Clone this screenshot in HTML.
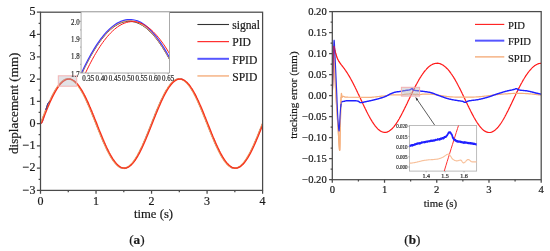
<!DOCTYPE html><html><head><meta charset="utf-8"><style>html,body{margin:0;padding:0;background:#fff;}svg{display:block;filter:blur(0.3px)}text{font-family:"Liberation Serif",serif;fill:#1a1a1a;stroke:#1a1a1a;stroke-width:0.2px}text.s{fill:#2a2a2a;stroke:#2a2a2a;stroke-width:0.2px}</style></head><body>
<svg width="550" height="251" viewBox="0 0 550 251">
<rect width="550" height="251" fill="#fff"/>
<defs><clipPath id="cA"><rect x="40.5" y="12.2" width="222.10" height="178.20"/></clipPath>
<clipPath id="cB"><rect x="332.3" y="11.6" width="208.90" height="168.10"/></clipPath>
<clipPath id="cLI"><rect x="81.1" y="12.2" width="88.40" height="60.80"/></clipPath>
<clipPath id="cRI"><rect x="409.5" y="125.5" width="67.10" height="45.60"/></clipPath>
<marker id="ah" viewBox="0 0 10 10" refX="9" refY="5" markerWidth="4.2" markerHeight="4.2" orient="auto"><path d="M0,1 L10,5 L0,9 z" fill="#333"/></marker>
</defs>
<g clip-path="url(#cA)" fill="none" stroke-linejoin="round">
<path d="M40.5,123.6 40.6,123.2 40.8,122.9 40.9,122.5 41.1,122.2 41.3,121.5 41.8,120.4 42,119.7 42.2,119.4 42.4,118.7 42.9,117.6 43.1,116.9 43.3,116.6 43.4,116.3 43.6,115.9 43.8,115.2 44,114.9 44.1,114.5 44.3,114.2 44.5,113.5 44.7,113.2 44.9,112.5 45.1,112.2 45.2,111.8 45.4,111.5 45.6,110.8 45.8,110.5 45.9,110.1 46.1,109.8 46.3,109.1 46.5,108.8 47,107.5 47.2,107.2 47.4,106.5 47.6,106.2 47.7,105.9 47.9,105.6 48.1,104.9 48.3,104.6 48.4,104.3 48.6,104 48.8,103.3 49,103 49.1,102.7 49.3,102.4 49.5,101.8 49.7,101.5 49.9,100.9 50.1,100.6 50.2,100.3 50.4,100 50.6,99.4 50.8,99.1 50.9,98.8 51.1,98.5 51.3,97.9 51.5,97.7 51.6,97.4 51.8,97.1 52,96.5 52.2,96.3 52.4,95.7 52.9,94.9 53.1,94.4 53.3,94.1 53.4,93.8 53.6,93.6 53.8,93.1 54.3,92.3 54.5,91.8 54.7,91.6 54.9,91.1 55.2,90.6 55.4,90.4 55.6,89.9 56.1,89.2 56.3,88.8 56.8,88.1 57,87.7 57.2,87.5 57.4,87.1 57.6,86.9 58.1,86.1 58.6,85.6 58.8,85.2 59.3,84.7 59.7,84.2 59.9,83.9 60.5,83.3 60.6,83.1 60.8,83 60.9,82.8 61.1,82.7 61.3,82.4 61.5,82.3 61.6,82.1 62,81.8 62.4,81.4 63.1,80.9 63.8,80.4 64.1,80.2 64.3,80.2 64.5,80 64.8,79.9 65.1,79.7 65.5,79.6 65.9,79.4 66.1,79.4 66.3,79.3 66.9,79.2 67,79.1 67.6,79.1 68.8,79 69.5,79.1 70.1,79.3 70.4,79.3 70.8,79.5 71.2,79.6 71.8,79.9 72.2,80.1 72.6,80.4 72.9,80.5 73.1,80.7 73.7,81.1 74.5,81.8 74.8,82 74.9,82.2 75.5,82.7 75.6,82.9 75.9,83.1 76.2,83.4 76.3,83.6 76.5,83.7 76.6,83.9 76.9,84.2 77,84.4 77.3,84.7 77.7,85.3 77.9,85.4 78.1,85.8 78.6,86.4 78.8,86.8 79,87 79.1,87.2 79.4,87.6 79.5,87.8 79.7,88 79.9,88.4 80.4,89.1 80.6,89.5 80.8,89.7 80.9,90 81.2,90.4 81.3,90.7 81.8,91.4 82,91.9 82.2,92.1 82.4,92.6 83,93.6 83.1,93.9 83.6,94.7 83.8,95.2 84,95.5 84.1,95.8 84.3,96 84.5,96.6 84.7,96.9 84.9,97.4 85.1,97.7 85.2,98 85.4,98.3 85.6,98.9 85.8,99.2 85.9,99.5 86.1,99.8 86.3,100.4 86.5,100.7 86.6,101 86.8,101.3 87,101.9 87.2,102.2 87.4,102.8 87.6,103.1 87.7,103.4 87.9,103.7 88.1,104.4 88.3,104.7 88.4,105 88.6,105.3 88.8,106 89,106.3 89.1,106.6 89.3,106.9 89.5,107.6 89.7,107.9 89.9,108.6 90.1,108.9 90.4,109.6 90.6,110.2 90.8,110.6 90.9,110.9 91.1,111.2 91.3,111.9 91.5,112.2 91.6,112.6 91.8,112.9 92,113.6 92.2,113.9 92.4,114.6 92.7,115.3 92.9,115.7 93.1,116.3 93.6,117.4 93.8,118.1 94,118.4 94.1,118.8 94.3,119.1 94.5,119.8 94.7,120.2 94.9,120.9 95.1,121.2 95.2,121.6 95.4,121.9 95.6,122.6 96.1,123.7 96.3,124.4 96.5,124.7 96.6,125.1 96.8,125.4 97,126.1 97.2,126.5 97.4,127.2 97.6,127.5 97.7,127.9 97.9,128.2 98.1,128.9 98.3,129.2 98.4,129.6 98.6,129.9 98.8,130.6 99,131 99.1,131.3 99.3,131.7 99.5,132.4 99.7,132.7 99.9,133.4 100.1,133.7 100.2,134.1 100.4,134.4 100.6,135.1 100.8,135.4 100.9,135.8 101.1,136.1 101.3,136.8 101.5,137.1 101.6,137.4 101.9,138.1 102,138.4 102.4,139.4 102.6,139.7 102.7,140.1 102.9,140.4 103.1,141 103.4,141.7 103.6,142 103.8,142.6 104,142.9 104.1,143.3 104.3,143.6 104.5,144.2 104.7,144.5 104.9,145.1 105.1,145.4 105.2,145.7 105.4,146 105.6,146.6 105.8,146.9 105.9,147.2 106.1,147.5 106.3,148.1 106.5,148.4 106.6,148.7 106.8,149 107,149.6 107.2,149.8 107.4,150.4 107.6,150.7 107.7,151 107.9,151.2 108.1,151.8 108.6,152.6 108.8,153.1 109.3,153.9 109.5,154.4 109.8,154.9 109.9,155.2 110.4,155.9 110.6,156.4 110.8,156.6 111.3,157.5 111.5,157.7 111.6,158 111.8,158.2 112,158.6 112.2,158.8 112.4,159.3 112.9,159.9 113.1,160.3 113.6,160.9 113.8,161.3 114,161.4 114.4,162 114.5,162.2 114.7,162.3 114.8,162.5 115.1,162.8 115.5,163.3 115.6,163.5 115.8,163.6 115.9,163.8 116.1,163.9 116.6,164.5 116.8,164.6 117,164.9 117.2,165 117.3,165.2 117.7,165.5 117.9,165.6 118.1,165.9 118.6,166.2 118.8,166.4 119.3,166.7 120,167.1 120.5,167.4 120.9,167.5 121.3,167.7 121.5,167.7 121.6,167.8 122.2,167.9 122.7,168 124.8,168.1 125.6,167.9 126.1,167.8 126.5,167.6 127.2,167.3 127.3,167.2 127.9,166.9 128.6,166.5 129.1,166.1 129.8,165.6 130.2,165.2 130.4,165.1 130.6,164.8 130.8,164.7 130.9,164.5 131.2,164.3 131.3,164.1 131.5,164 131.6,163.8 131.8,163.7 132.2,163.2 132.3,163 132.5,162.9 132.7,162.5 132.9,162.4 133.1,162 133.6,161.5 133.8,161.1 134,160.9 134.1,160.7 134.3,160.5 134.5,160.1 135,159.5 135.2,159.1 135.4,158.9 135.6,158.5 135.9,158 136.1,157.8 136.6,156.9 136.8,156.7 137,156.2 137.3,155.7 137.5,155.5 137.7,155 138,154.5 138.1,154.2 138.3,154 138.4,153.7 138.7,153.2 138.8,152.9 139,152.7 139.1,152.4 139.4,151.9 139.5,151.6 139.7,151.3 139.8,151 140,150.8 140.2,150.2 140.4,149.9 140.6,149.3 140.8,149.1 140.9,148.8 141.1,148.5 141.3,147.9 141.5,147.6 141.6,147.3 141.8,147 142,146.4 142.2,146.1 142.3,145.8 142.5,145.5 142.7,144.9 142.9,144.6 143.1,144 143.3,143.7 143.4,143.3 143.6,143 143.8,142.4 144,142.1 144.1,141.8 144.3,141.4 144.5,140.8 144.7,140.5 144.8,140.1 145,139.8 145.2,139.2 145.4,138.8 145.6,138.2 145.8,137.8 145.9,137.5 146.1,137.2 146.3,136.5 146.5,136.2 146.6,135.8 146.8,135.5 147,134.8 147.2,134.5 147.5,133.8 147.7,133.1 147.9,132.8 148.1,132.1 148.3,131.8 148.4,131.4 148.6,131.1 148.8,130.4 149,130 149.1,129.7 149.3,129.3 149.5,128.6 149.7,128.3 149.8,127.9 150,127.6 150.2,126.9 150.4,126.5 150.6,125.8 150.8,125.5 151.2,124.5 151.3,124.1 151.5,123.8 151.6,123.4 151.8,123 152,122.3 152.2,122 152.3,121.6 152.5,121.3 152.7,120.6 152.9,120.3 153.1,119.6 153.3,119.2 153.7,118.2 153.8,117.8 154,117.5 154.1,117.1 154.3,116.8 154.5,116.1 154.8,115.4 155,115.1 155.2,114.4 155.4,114 155.6,113.3 155.8,113 156.2,112 156.3,111.6 156.5,111.3 156.6,111 156.8,110.6 157,110 157.3,109.3 157.5,109 157.7,108.3 157.9,108 158.1,107.3 158.3,107 158.4,106.7 158.6,106.4 158.8,105.7 159,105.4 159.1,105.1 159.3,104.8 159.5,104.1 159.7,103.8 159.8,103.5 160,103.2 160.2,102.6 160.4,102.3 160.6,101.6 160.8,101.3 160.9,101 161.1,100.7 161.3,100.1 161.5,99.8 161.6,99.5 161.9,99 162,98.7 162.2,98.4 162.3,98.1 162.5,97.8 162.7,97.2 162.9,97 163.1,96.4 163.3,96.1 163.4,95.8 163.6,95.6 163.8,95 164,94.8 164.1,94.5 164.4,94 164.5,93.7 165,92.9 165.2,92.4 165.4,92.2 165.6,91.7 165.9,91.2 166.1,91 166.3,90.5 166.5,90.3 166.6,90 166.8,89.8 167,89.3 167.5,88.7 167.7,88.3 168.1,87.6 168.3,87.4 168.8,86.6 169,86.4 169.1,86.2 169.4,85.9 169.8,85.3 170.2,84.8 170.4,84.6 170.6,84.3 170.8,84.1 170.9,83.9 171.1,83.8 171.6,83.2 171.9,82.9 172,82.7 172.3,82.5 172.7,82.1 172.9,82 173.1,81.7 173.6,81.4 173.8,81.1 174.4,80.7 174.7,80.5 175,80.4 175.2,80.2 175.8,79.9 175.9,79.8 176.3,79.7 176.6,79.5 176.8,79.5 177.2,79.3 177.5,79.3 177.7,79.2 177.9,79.2 178.1,79.1 178.7,79.1 179.1,79 179.8,79 180.2,79.1 180.5,79.1 180.6,79.2 181.1,79.2 181.8,79.5 182.2,79.6 182.3,79.7 182.6,79.8 182.7,79.9 182.9,79.9 183.1,80.1 183.3,80.1 183.8,80.5 184.3,80.8 184.5,81 185,81.3 185.2,81.5 185.5,81.7 185.6,81.9 186.1,82.2 186.3,82.5 186.5,82.6 186.6,82.8 186.8,82.9 187.6,83.8 187.7,84 187.9,84.1 188.1,84.5 188.3,84.6 188.7,85.2 189,85.5 189.1,85.7 189.3,85.9 189.5,86.3 190,86.9 190.2,87.3 190.4,87.5 190.8,88.1 191.2,88.7 191.3,89 191.6,89.4 191.8,89.6 192,90.1 192.2,90.3 192.3,90.6 192.6,91 192.7,91.3 192.9,91.5 193,91.8 193.3,92.2 193.4,92.5 193.6,92.7 193.8,93.3 194,93.5 194.1,93.8 194.3,94 194.5,94.6 194.7,94.8 194.8,95.1 195.1,95.6 195.2,95.9 195.4,96.2 195.5,96.5 195.7,96.7 195.9,97.3 196.1,97.6 196.3,98.2 196.5,98.4 196.6,98.7 196.8,99 197,99.6 197.2,99.9 197.3,100.2 197.5,100.5 197.7,101.1 197.9,101.4 198,101.7 198.2,102 198.4,102.6 198.6,102.9 198.8,103.6 199,103.9 199.1,104.2 199.3,104.5 199.5,105.2 199.7,105.5 199.8,105.8 200,106.1 200.2,106.8 200.4,107.1 200.5,107.4 200.7,107.7 200.9,108.4 201.1,108.7 201.3,109.4 201.5,109.7 201.6,110 201.8,110.4 202,111.1 202.2,111.4 202.5,112.1 202.7,112.7 202.9,113.1 203,113.4 203.3,114.1 203.4,114.4 203.7,115.1 203.8,115.5 204,115.8 204.1,116.2 204.3,116.5 204.5,117.2 204.8,117.9 205,118.2 205.2,118.9 205.4,119.3 205.8,120.3 205.9,120.7 206.1,121 206.3,121.7 206.5,122.1 206.6,122.4 206.8,122.8 207,123.5 207.2,123.8 207.3,124.2 207.5,124.5 207.7,125.2 207.9,125.6 208,125.9 208.3,126.6 208.4,127 208.6,127.3 208.8,128 209.1,128.7 209.3,129.1 209.5,129.8 209.7,130.1 209.8,130.5 210,130.8 210.2,131.5 210.4,131.8 210.5,132.2 210.7,132.5 210.9,133.2 211.1,133.6 211.3,134.2 211.5,134.6 211.6,134.9 211.8,135.3 212,135.9 212.3,136.6 212.5,136.9 212.7,137.6 212.9,137.9 213,138.3 213.2,138.6 213.4,139.2 213.6,139.6 213.8,140.2 214,140.6 214.1,140.9 214.3,141.2 214.5,141.8 214.8,142.5 215,142.8 215.2,143.4 215.4,143.7 215.5,144 215.8,144.7 215.9,145 216.1,145.3 216.3,145.9 216.5,146.2 216.6,146.5 216.8,146.8 217,147.4 217.2,147.7 217.3,148 217.5,148.3 217.7,148.8 217.9,149.1 218,149.4 218.2,149.7 218.4,150.3 218.6,150.5 218.8,151.1 219.3,151.9 219.5,152.5 219.7,152.7 219.8,153 220,153.2 220.2,153.8 220.4,154 220.5,154.3 220.7,154.5 220.9,155 221.2,155.5 221.3,155.8 221.8,156.5 222,157 222.5,157.6 222.7,158.1 222.9,158.3 223.2,158.7 223.4,159.2 223.8,159.8 224.1,160.2 224.3,160.4 224.5,160.8 224.8,161.2 225,161.3 225.2,161.7 225.4,161.9 225.5,162.1 225.7,162.2 225.9,162.6 226.2,162.9 226.3,163.1 226.5,163.2 226.6,163.4 226.9,163.7 227,163.9 227.2,164 227.3,164.2 227.6,164.4 227.7,164.6 228.4,165.2 228.8,165.6 229.5,166.1 230.2,166.6 230.8,167 231.2,167.2 231.3,167.3 231.9,167.5 232.3,167.7 232.5,167.7 232.9,167.9 233.2,167.9 233.7,168 234.1,168.1 235.8,168.1 236.3,168 236.6,167.9 236.8,167.9 237.2,167.7 237.6,167.6 237.7,167.5 237.9,167.5 238.2,167.3 238.6,167.1 239,166.9 239.4,166.6 240,166.3 240.2,166.1 240.4,166 240.5,165.8 240.9,165.5 241.2,165.3 241.3,165.1 241.6,164.9 242.6,163.9 242.7,163.7 242.9,163.6 243,163.4 243.2,163.3 243.6,162.8 244,162.3 244.1,162.1 244.4,161.8 244.5,161.6 245,161 245.2,160.6 245.4,160.4 245.5,160.2 245.8,159.8 245.9,159.6 246.1,159.4 246.3,159 246.5,158.8 246.6,158.6 246.8,158.4 247,157.9 247.5,157.2 247.7,156.8 248,156.3 248.2,156.1 248.4,155.6 248.7,155.1 248.8,154.8 249,154.6 249.1,154.3 249.3,154.1 249.5,153.6 250,152.8 250.2,152.3 250.4,152 250.5,151.7 250.8,151.2 250.9,150.9 251.1,150.6 251.3,150.1 251.5,149.8 251.6,149.5 251.8,149.2 252,148.6 252.2,148.3 252.3,148 252.5,147.8 252.7,147.2 252.9,146.9 253,146.6 253.2,146.3 253.4,145.7 253.6,145.4 253.8,144.7 254,144.4 254.1,144.1 254.3,143.8 254.5,143.2 254.7,142.9 255,142.2 255.2,141.6 255.4,141.3 255.5,141 255.8,140.3 255.9,140 256.1,139.7 256.3,139 256.5,138.7 256.6,138.3 256.8,138 257,137.4 257.5,136.3 257.7,135.7 258,135 258.2,134.7 258.4,134 258.6,133.6 258.8,133 259.3,131.9 259.5,131.2 259.7,130.9 259.8,130.5 260,130.2 260.2,129.5 260.4,129.2 260.5,128.8 260.7,128.5 260.9,127.8 261.1,127.4 261.3,126.7 261.5,126.4 261.6,126 261.8,125.7 262,125 262.5,123.9 262.6,123.6" stroke="#222" stroke-width="1.0"/>
<path d="M40.5,123.6 41.1,123.3 41.3,123 41.8,122.7 42.2,122.2 42.4,121.6 42.6,121.2 42.7,120.8 42.9,120.3 43.1,119.3 43.3,118.8 43.4,118.3 43.6,117.9 43.8,116.9 44,116.4 44.1,115.9 44.3,115.4 44.5,114.4 44.7,113.9 44.9,112.9 45.1,112.4 45.2,111.9 45.4,111.4 45.6,110.4 45.8,109.9 45.9,109.4 46.1,108.9 46.3,108 46.5,107.6 46.6,107.1 46.8,106.7 47,105.9 47.2,105.5 47.4,104.7 47.7,104 48.1,103.3 48.6,102.7 48.8,102.3 49.3,101.7 49.5,101.3 49.7,101 49.9,100.5 50.1,100.2 50.2,99.9 50.4,99.7 50.6,99.1 50.8,98.8 50.9,98.5 51.1,98.2 51.3,97.6 51.8,96.8 52,96.2 52.2,96 52.4,95.4 52.9,94.6 53.1,94.1 53.3,93.8 53.4,93.5 53.6,93.3 53.8,92.8 54.3,92 54.5,91.5 54.7,91.3 54.9,90.8 55.1,90.6 55.2,90.3 55.5,89.9 55.6,89.6 55.8,89.4 55.9,89.2 56.1,89 56.3,88.5 56.5,88.3 56.6,88.1 56.8,87.9 57,87.5 57.2,87.3 57.4,86.9 57.6,86.7 58.1,85.9 58.4,85.5 58.6,85.3 58.8,85 59,84.8 59.1,84.6 59.4,84.3 59.5,84.1 59.8,83.8 59.9,83.6 60.5,83 60.6,82.8 61.2,82.3 61.3,82.1 61.6,81.9 62,81.5 62.3,81.3 62.4,81.1 63,80.7 63.7,80.2 63.8,80.1 64.3,79.9 64.5,79.7 64.7,79.7 64.9,79.5 65.5,79.3 65.8,79.2 65.9,79.1 66.5,79 66.9,78.9 67,78.8 67.7,78.8 69.1,78.7 69.8,78.8 69.9,78.9 70.2,78.9 70.6,79.1 70.8,79.1 70.9,79.2 71.3,79.3 71.6,79.5 71.9,79.6 72,79.7 72.3,79.8 73,80.3 73.7,80.8 74.4,81.3 74.5,81.5 74.9,81.8 75.2,82.1 75.4,82.2 75.6,82.5 76.2,83.1 76.3,83.3 76.5,83.4 76.9,83.9 77.3,84.4 77.7,85 77.9,85.1 78.1,85.5 78.6,86.1 78.8,86.5 79,86.7 79.1,86.9 79.3,87.1 79.5,87.5 79.7,87.7 80.2,88.6 80.4,88.8 80.6,89.2 80.9,89.7 81.1,89.9 81.3,90.4 81.5,90.6 81.6,90.9 81.8,91.1 82,91.6 82.3,92.1 82.4,92.4 82.6,92.6 82.7,92.9 82.9,93.1 83.1,93.7 83.3,93.9 83.4,94.2 83.7,94.7 83.8,95 84.3,95.8 84.5,96.4 84.8,96.9 84.9,97.2 85.1,97.5 85.2,97.8 85.4,98.1 85.6,98.7 85.8,99 85.9,99.3 86.1,99.6 86.3,100.2 86.5,100.5 86.6,100.8 86.8,101.1 87,101.7 87.2,102 87.4,102.6 87.6,102.9 87.7,103.2 87.9,103.5 88.1,104.2 88.3,104.5 88.4,104.8 88.6,105.1 88.8,105.8 89,106.1 89.1,106.4 89.4,107.1 89.5,107.4 89.7,107.7 89.9,108.4 90.1,108.7 90.2,109.1 90.4,109.4 90.6,110.1 90.8,110.4 91.2,111.4 91.3,111.8 91.5,112.1 91.6,112.4 91.9,113.1 92,113.5 92.2,113.8 92.4,114.5 92.6,114.8 92.7,115.2 92.9,115.5 93.1,116.2 93.3,116.6 93.7,117.6 93.8,118 94,118.3 94.1,118.7 94.3,119 94.5,119.7 94.7,120.1 94.9,120.8 95.1,121.1 95.2,121.5 95.4,121.8 95.6,122.5 96.1,123.6 96.3,124.3 96.5,124.7 96.6,125 96.9,125.7 97,126.1 97.2,126.4 97.4,127.1 97.7,127.8 97.9,128.2 98.1,128.9 98.3,129.2 98.4,129.6 98.6,129.9 98.8,130.6 99,131 99.1,131.3 99.3,131.7 99.5,132.4 99.7,132.7 99.9,133.4 100.2,134.1 100.4,134.4 100.6,135.1 101.1,136.2 101.3,136.8 101.5,137.2 101.6,137.5 101.8,137.8 102,138.5 102.2,138.8 102.4,139.5 102.6,139.8 102.7,140.2 102.9,140.5 103.1,141.1 103.4,141.8 103.6,142.1 103.8,142.8 104,143.1 104.1,143.4 104.3,143.7 104.5,144.3 104.7,144.7 104.9,145.3 105.1,145.6 105.2,145.9 105.4,146.2 105.6,146.8 105.8,147.1 105.9,147.4 106.1,147.7 106.3,148.3 106.5,148.6 106.6,148.9 106.8,149.2 107,149.7 107.2,150 107.4,150.6 107.6,150.9 107.7,151.2 107.9,151.4 108.1,152 108.6,152.8 108.8,153.3 109.3,154.1 109.5,154.6 109.8,155.1 109.9,155.4 110.1,155.6 110.2,155.9 110.4,156.1 110.6,156.6 111.1,157.3 111.6,158.2 111.9,158.6 112,158.9 112.2,159.1 112.4,159.5 112.6,159.7 112.7,159.9 112.9,160.1 113.1,160.5 113.3,160.7 113.4,160.9 113.6,161.1 113.8,161.5 114,161.7 114.1,161.9 114.3,162 114.5,162.4 115,162.9 115.2,163.3 115.4,163.4 116.2,164.3 116.3,164.5 116.5,164.6 116.6,164.8 116.9,165 117,165.2 117.7,165.8 118.1,166.1 118.4,166.4 119.1,166.9 119.4,167 119.8,167.3 120.4,167.6 120.8,167.8 121.2,167.9 121.6,168.1 122.2,168.2 122.3,168.3 122.6,168.3 123.7,168.4 124.1,168.5 125.2,168.4 125.5,168.3 125.6,168.2 126.1,168.1 126.8,167.8 127.3,167.5 127.9,167.2 128.3,167 128.8,166.6 129.3,166.3 129.8,165.8 130.9,164.8 131.1,164.7 131.6,164.1 131.9,163.8 132,163.6 132.2,163.5 132.6,163 132.7,162.8 132.9,162.6 133.1,162.3 133.3,162.1 133.7,161.5 134,161.2 134.1,161 134.3,160.8 134.5,160.4 135,159.8 135.2,159.3 135.4,159.1 135.6,158.7 135.8,158.5 136.3,157.6 136.5,157.4 136.6,157.1 136.8,156.9 137,156.4 137.2,156.2 137.3,155.9 137.5,155.7 137.7,155.2 138,154.7 138.1,154.4 138.3,154.2 138.4,153.9 138.6,153.7 138.8,153.1 139,152.9 139.1,152.6 139.4,152.1 139.5,151.8 139.7,151.5 139.8,151.2 140,151 140.2,150.4 140.4,150.1 140.6,149.5 140.8,149.3 140.9,149 141.1,148.7 141.3,148.1 141.5,147.8 141.6,147.5 141.8,147.2 142,146.6 142.2,146.3 142.3,146 142.5,145.7 142.7,145.1 142.9,144.8 143.1,144.1 143.3,143.8 143.4,143.5 143.6,143.2 143.8,142.6 144,142.3 144.1,141.9 144.3,141.6 144.5,141 144.8,140.3 145,140 145.2,139.3 145.4,139 145.6,138.3 145.8,138 145.9,137.7 146.1,137.3 146.3,136.7 146.5,136.3 146.6,136 146.8,135.6 147,135 147.5,133.9 147.7,133.3 147.9,132.9 148.1,132.2 148.3,131.9 148.4,131.5 148.6,131.2 148.8,130.5 149.1,129.8 149.3,129.4 149.5,128.7 149.7,128.4 149.8,128 150,127.7 150.2,127 150.4,126.6 150.6,125.9 150.8,125.6 150.9,125.2 151.1,124.9 151.3,124.2 151.5,123.8 151.6,123.4 151.8,123.1 152,122.4 152.5,121.3 152.7,120.6 152.9,120.3 153.1,119.6 153.3,119.2 153.7,118.2 153.8,117.8 154,117.5 154.1,117.1 154.3,116.8 154.5,116.1 155,115 155.2,114.3 155.4,114 155.6,113.3 155.8,113 155.9,112.6 156.1,112.3 156.3,111.6 156.5,111.3 156.6,110.9 156.8,110.6 157,109.9 157.2,109.6 157.3,109.2 157.5,108.9 157.7,108.2 157.9,107.9 158.1,107.3 158.3,106.9 158.4,106.6 158.6,106.3 158.8,105.6 159,105.3 159.1,105 159.3,104.7 159.5,104 159.7,103.7 159.8,103.4 160,103.1 160.2,102.5 160.4,102.1 160.6,101.5 160.8,101.2 160.9,100.9 161.1,100.6 161.3,100 161.5,99.7 161.6,99.4 161.8,99.1 162,98.5 162.2,98.2 162.3,97.9 162.5,97.7 162.7,97.1 162.9,96.8 163.1,96.2 163.3,96 163.4,95.7 163.6,95.4 163.8,94.9 164,94.6 164.1,94.3 164.3,94.1 164.5,93.5 164.7,93.3 164.8,93 165,92.8 165.2,92.2 165.4,92 165.6,91.5 165.8,91.3 165.9,91 166.1,90.8 166.3,90.3 166.5,90.1 166.6,89.8 166.8,89.6 167,89.1 167.5,88.5 167.7,88 167.9,87.8 168.1,87.4 168.3,87.2 168.8,86.4 169.1,86 169.3,85.8 169.5,85.4 169.7,85.3 170,84.9 170.2,84.5 170.4,84.4 170.6,84 170.8,83.9 171.2,83.4 171.3,83.2 171.5,83.1 171.6,82.9 171.8,82.8 172,82.5 172.2,82.4 172.3,82.2 172.6,82 172.7,81.8 173,81.6 173.1,81.4 173.8,80.9 174.5,80.4 175.2,79.9 175.4,79.9 175.6,79.7 176.1,79.5 176.8,79.2 177,79.1 177.5,79 177.7,78.9 178,78.9 178.1,78.8 178.7,78.8 179.1,78.7 180.1,78.7 180.2,78.8 180.8,78.8 180.9,78.9 181.2,78.9 181.9,79.1 182.2,79.3 182.6,79.4 183,79.7 183.3,79.8 183.8,80.2 184.4,80.6 184.8,80.9 185.2,81.2 185.4,81.3 185.6,81.6 185.9,81.8 187.2,83.1 187.3,83.3 187.5,83.4 187.7,83.7 187.9,83.9 188.1,84.2 188.3,84.4 188.4,84.6 188.6,84.7 188.8,85.1 189.1,85.5 189.3,85.6 189.5,86 190,86.6 190.2,87 190.4,87.2 190.5,87.4 190.7,87.6 190.9,88.1 191.3,88.7 191.5,88.9 191.6,89.2 191.8,89.4 192,89.9 192.5,90.6 192.7,91 193.3,92 193.4,92.3 193.6,92.5 193.8,93 194,93.3 194.1,93.6 194.3,93.8 194.5,94.3 194.7,94.6 194.8,94.9 195.1,95.4 195.2,95.7 195.4,96 195.5,96.3 195.7,96.5 195.9,97.1 196.1,97.4 196.3,98 196.8,98.8 197,99.4 197.2,99.7 197.3,100 197.5,100.3 197.7,100.9 197.9,101.2 198,101.5 198.2,101.8 198.4,102.5 198.6,102.8 198.8,103.4 199,103.7 199.1,104 199.3,104.3 199.5,105 199.7,105.3 200,106 200.2,106.6 200.4,106.9 200.5,107.3 200.7,107.6 200.9,108.2 201.1,108.6 201.3,109.2 201.5,109.6 201.6,109.9 201.8,110.2 202,110.9 202.3,111.6 202.5,111.9 202.7,112.6 202.9,113 203,113.3 203.2,113.6 203.4,114.3 203.7,115 203.8,115.4 204,115.7 204.1,116.1 204.3,116.4 204.5,117.1 205,118.2 205.2,118.9 205.4,119.2 205.5,119.6 205.7,119.9 205.9,120.6 206.2,121.3 206.3,121.7 206.5,122 206.6,122.4 206.8,122.7 207,123.4 207.5,124.5 207.7,125.2 207.9,125.5 208,125.9 208.2,126.2 208.4,126.9 208.7,127.6 208.8,128 209.1,128.7 209.3,129.1 209.5,129.7 210,130.8 210.2,131.5 210.4,131.8 210.5,132.2 210.7,132.5 210.9,133.2 211.1,133.6 211.3,134.2 211.5,134.6 211.6,134.9 211.8,135.3 212,136 212.2,136.3 212.5,137 212.7,137.6 212.9,138 213,138.3 213.2,138.6 213.4,139.3 213.6,139.6 213.8,140.3 214,140.6 214.1,140.9 214.3,141.3 214.5,141.9 214.7,142.2 214.8,142.6 215,142.9 215.2,143.5 215.4,143.8 215.5,144.1 215.7,144.4 215.9,145.1 216.1,145.4 216.3,146 216.5,146.3 216.6,146.6 216.8,146.9 217,147.5 217.2,147.8 217.3,148.1 217.5,148.4 217.7,149 218.2,149.8 218.4,150.4 218.6,150.7 218.8,151.2 219,151.5 219.1,151.8 219.4,152.3 219.5,152.6 220,153.4 220.2,153.9 220.7,154.7 220.9,155.2 221.3,155.9 221.8,156.7 222.3,157.6 222.5,157.8 222.7,158.3 222.9,158.5 223.2,158.9 223.4,159.4 223.6,159.6 223.8,160 224,160.2 224.1,160.4 224.3,160.6 224.5,161 225,161.6 225.2,161.9 225.4,162.1 225.5,162.3 226.1,163 226.5,163.5 226.6,163.7 226.8,163.8 227.7,164.8 228,165.1 228.2,165.2 228.4,165.5 228.7,165.7 228.8,165.9 229.3,166.2 229.5,166.4 230,166.7 230.2,166.9 230.7,167.2 231.3,167.6 231.8,167.8 232.2,167.9 232.5,168 233,168.2 233.2,168.2 233.4,168.3 234.1,168.4 234.3,168.4 235.2,168.5 235.5,168.5 236.2,168.4 236.6,168.3 237,168.1 237.5,168 237.9,167.8 238,167.7 238.3,167.6 239,167.2 239.4,166.9 239.7,166.8 240.2,166.4 240.5,166.1 241.1,165.7 241.3,165.4 242,164.8 242.6,164.2 242.7,164 242.9,163.9 243,163.7 243.2,163.6 243.4,163.2 243.6,163.1 243.8,162.7 244,162.6 244.1,162.4 244.3,162.2 244.5,161.8 244.7,161.7 245,161.3 245.2,160.9 245.4,160.7 245.8,160.1 246.5,159 246.6,158.8 246.8,158.6 247,158.2 247.3,157.7 247.6,157.3 247.7,157 247.9,156.8 248.3,156.1 248.4,155.8 248.6,155.6 248.8,155.1 249.3,154.3 249.5,153.8 250,153 250.2,152.5 250.4,152.2 250.5,151.9 250.7,151.7 250.9,151.1 251.2,150.6 251.3,150.3 251.5,150 251.6,149.7 251.8,149.4 252,148.8 252.2,148.5 252.3,148.2 252.5,148 252.7,147.4 252.9,147.1 253,146.8 253.2,146.5 253.4,145.8 253.6,145.5 253.8,144.9 254,144.6 254.1,144.3 254.3,144 254.5,143.4 254.8,142.7 255,142.4 255.2,141.8 255.4,141.4 255.5,141.1 255.7,140.8 255.9,140.1 256.1,139.8 256.3,139.2 256.6,138.5 256.8,138.2 257,137.5 257.2,137.2 257.3,136.8 257.5,136.5 257.7,135.8 257.9,135.5 258,135.1 258.2,134.8 258.4,134.1 258.6,133.8 258.8,133.1 259.3,132 259.5,131.3 259.7,131 260.1,130 260.2,129.6 260.4,129.3 260.5,128.9 260.7,128.6 260.9,127.9 261.1,127.5 261.3,126.8 261.5,126.5 261.6,126.1 261.8,125.8 262,125.1 262.5,124 262.6,123.7" stroke="#1f1fff" stroke-width="1.0"/>
<path d="M40.5,123.6 40.8,123.1 40.9,122.7 41.1,122.4 41.3,121.7 41.8,120.6 42,120 42.2,119.6 42.4,118.9 42.6,118.6 42.7,118.2 42.9,117.9 43.1,117.2 43.4,116.5 43.7,115.8 43.8,115.4 44,115.1 44.3,114.3 44.5,113.4 44.9,112.3 45.1,111.9 45.2,111.6 45.4,111.3 45.6,110.6 45.9,109.9 46.1,109.6 46.3,108.9 46.5,108.6 46.8,107.9 47,107.3 47.2,106.9 47.4,106.3 47.6,106 47.7,105.6 47.9,105.3 48.1,104.7 48.3,104.4 48.4,104.1 48.6,103.7 48.8,103.1 49,102.8 49.1,102.5 49.3,102.2 49.5,101.6 49.9,100.9 50.1,100.7 50.2,100.4 50.4,100.1 50.6,99.4 50.9,98.7 51.2,98.2 51.3,97.9 51.5,97.6 51.6,97.3 51.8,97.1 52,96.5 52.2,96.2 52.4,95.7 52.6,95.4 52.7,95.1 53,94.6 53.1,94.3 53.6,93.5 53.8,93 54.3,92.2 54.5,91.7 54.7,91.5 54.9,91 55.1,90.8 55.2,90.5 55.5,90.1 55.6,89.8 56.1,89.2 56.3,88.7 56.5,88.5 56.8,88.1 57,87.6 57.2,87.4 57.4,87 57.6,86.8 57.7,86.6 57.9,86.4 58.1,86 58.3,85.9 58.4,85.7 58.6,85.5 58.8,85.1 59,85 59.5,84.3 59.9,83.8 60.5,83.2 60.6,83 60.8,82.9 60.9,82.7 61.1,82.6 61.3,82.3 62,81.7 62.2,81.6 62.4,81.3 63,80.9 63.4,80.6 63.8,80.3 64.3,80.1 64.5,79.9 64.7,79.9 64.9,79.7 65.1,79.7 65.6,79.4 65.8,79.4 65.9,79.3 66.5,79.2 66.6,79.1 66.9,79.1 67.7,79 68.7,78.9 69.4,79 69.9,79.1 70.6,79.3 71.1,79.5 71.8,79.8 72.3,80.1 72.6,80.3 73.3,80.7 73.8,81.1 74,81.2 74.1,81.4 74.5,81.7 74.7,81.8 74.9,82.1 75.5,82.6 75.6,82.8 75.8,82.9 75.9,83.1 76.1,83.2 76.9,84.1 77,84.3 77.3,84.6 77.7,85.2 77.9,85.3 78.1,85.7 78.6,86.3 78.8,86.7 79.3,87.3 79.5,87.7 79.9,88.3 80.1,88.5 80.2,88.8 80.4,89 80.6,89.4 80.9,89.9 81.2,90.3 81.3,90.6 81.5,90.8 81.6,91.1 81.9,91.5 82,91.8 82.2,92 82.4,92.5 82.9,93.3 83.1,93.8 83.6,94.6 83.8,95.2 84,95.4 84.1,95.7 84.3,96 84.5,96.5 84.7,96.8 84.9,97.4 85.4,98.2 85.6,98.8 85.8,99.1 85.9,99.4 86.1,99.7 86.3,100.3 86.5,100.6 86.6,100.9 86.8,101.2 87,101.8 87.2,102.1 87.4,102.7 87.6,103 87.7,103.4 87.9,103.7 88.1,104.3 88.3,104.6 88.7,105.6 88.8,105.9 89,106.2 89.1,106.6 89.3,106.9 89.5,107.5 89.7,107.9 89.9,108.5 90.1,108.8 90.2,109.2 90.4,109.5 90.6,110.2 90.8,110.5 90.9,110.9 91.1,111.2 91.3,111.9 91.5,112.2 91.6,112.5 91.9,113.2 92,113.6 92.2,113.9 92.4,114.6 92.6,114.9 92.7,115.3 92.9,115.6 93.1,116.3 93.6,117.4 93.8,118.1 94,118.4 94.1,118.8 94.3,119.1 94.5,119.8 94.7,120.1 94.9,120.8 95.2,121.5 95.4,121.9 95.6,122.6 96.1,123.7 96.3,124.4 96.5,124.7 96.6,125.1 96.8,125.4 97,126.1 97.2,126.5 97.4,127.2 97.6,127.5 97.7,127.9 97.9,128.2 98.1,128.9 98.6,130 98.8,130.6 99,131 99.1,131.3 99.3,131.7 99.5,132.4 99.7,132.7 99.9,133.4 100.2,134.1 100.4,134.4 100.6,135.1 100.9,135.8 101.1,136.1 101.3,136.8 101.5,137.1 101.6,137.5 101.8,137.8 102,138.5 102.2,138.8 102.4,139.5 102.6,139.8 102.7,140.1 102.9,140.4 103.1,141.1 103.3,141.4 103.4,141.7 103.6,142 103.8,142.7 104,143 104.1,143.3 104.3,143.6 104.5,144.2 104.7,144.6 104.9,145.2 105.1,145.5 105.2,145.8 105.4,146.1 105.6,146.7 105.8,147 105.9,147.3 106.1,147.6 106.3,148.2 106.8,149 107,149.6 107.2,149.9 107.4,150.5 107.6,150.7 107.7,151 107.9,151.3 108.1,151.8 108.3,152.1 108.4,152.4 108.6,152.6 108.8,153.2 109,153.4 109.1,153.7 109.3,153.9 109.5,154.5 109.7,154.7 109.9,155.2 110.1,155.4 110.2,155.7 110.4,155.9 110.6,156.4 110.8,156.6 110.9,156.9 111.1,157.1 111.3,157.6 111.6,158 111.8,158.2 112,158.7 112.3,159.1 112.4,159.3 112.9,159.9 113.1,160.3 113.6,160.9 113.8,161.3 114,161.5 114.1,161.7 114.3,161.8 114.5,162.2 115,162.7 115.2,163.1 115.4,163.2 115.6,163.5 116.2,164.1 116.3,164.3 116.5,164.4 116.6,164.6 116.9,164.8 117,165 117.3,165.2 117.7,165.6 118.4,166.2 118.8,166.5 119.1,166.7 119.3,166.7 119.5,166.9 120,167.2 120.4,167.4 120.8,167.6 121.2,167.7 121.3,167.8 121.8,167.9 122.2,168 122.7,168.1 123.8,168.2 124,168.3 124.1,168.2 125,168.2 125.4,168.1 125.8,167.9 126.2,167.8 126.3,167.7 126.8,167.6 127,167.4 127.5,167.2 127.9,167 128.3,166.8 128.8,166.4 129.3,166.1 129.5,165.8 130.2,165.3 130.4,165.2 130.6,164.9 130.8,164.8 130.9,164.6 131.1,164.5 131.6,163.9 131.9,163.6 132,163.4 132.2,163.3 132.6,162.8 132.7,162.6 133,162.3 133.1,162.1 133.3,161.9 133.4,161.7 133.7,161.4 134,161 134.1,160.8 134.3,160.6 134.5,160.2 135,159.6 135.2,159.2 135.4,159 135.6,158.5 135.8,158.3 135.9,158.1 136.1,157.9 136.3,157.4 136.8,156.7 137.3,155.8 137.7,155.1 138,154.6 138.1,154.3 138.7,153.3 138.8,153 139.3,152.2 139.5,151.7 139.7,151.4 139.8,151.1 140.1,150.6 140.2,150.3 140.4,150 140.6,149.4 141.1,148.6 141.3,148 141.5,147.7 141.6,147.4 141.8,147.1 142,146.5 142.2,146.2 142.3,145.9 142.5,145.6 142.7,145 142.9,144.7 143.1,144 143.3,143.7 143.4,143.4 143.6,143.1 143.8,142.5 144,142.2 144.1,141.8 144.3,141.5 144.5,140.9 144.8,140.2 145,139.9 145.2,139.2 145.4,138.9 145.6,138.3 145.8,137.9 145.9,137.6 146.1,137.3 146.3,136.6 146.5,136.3 146.6,135.9 146.8,135.6 147,134.9 147.2,134.6 147.3,134.2 147.5,133.9 147.7,133.2 147.9,132.9 148.1,132.2 148.3,131.8 148.4,131.5 148.7,130.8 148.8,130.4 149,130.1 149.1,129.7 149.3,129.4 149.5,128.7 150,127.6 150.2,126.9 150.4,126.6 150.6,125.9 150.8,125.5 151.2,124.5 151.3,124.1 151.5,123.8 151.6,123.4 151.8,123.1 152,122.4 152.5,121.3 152.7,120.6 152.9,120.3 153.1,119.6 153.3,119.2 153.7,118.2 153.8,117.8 154,117.5 154.1,117.1 154.3,116.8 154.5,116.1 154.7,115.8 154.8,115.4 155,115.1 155.2,114.4 155.4,114 155.6,113.3 155.8,113 156.2,112 156.3,111.6 156.5,111.3 156.6,111 156.8,110.6 157,110 157.3,109.3 157.5,109 157.7,108.3 157.9,108 158.1,107.3 158.3,107 158.8,105.7 159,105.4 159.1,105.1 159.3,104.7 159.5,104.1 159.7,103.8 159.8,103.5 160,103.2 160.2,102.5 160.4,102.2 160.6,101.6 160.8,101.3 160.9,101 161.1,100.7 161.3,100.1 161.5,99.8 161.6,99.5 161.8,99.2 162,98.6 162.2,98.3 162.3,98 162.5,97.8 162.7,97.2 162.9,96.9 163.1,96.3 163.3,96.1 163.4,95.8 163.6,95.5 163.8,95 164,94.7 164.1,94.4 164.3,94.2 164.5,93.6 164.7,93.4 164.8,93.1 165,92.9 165.2,92.4 165.5,91.9 165.6,91.6 165.8,91.4 165.9,91.1 166.1,90.9 166.3,90.4 166.8,89.7 167,89.3 167.2,89.1 167.3,88.8 167.6,88.4 167.7,88.2 167.9,88 168.1,87.6 168.4,87.1 168.6,86.9 168.8,86.5 169.3,86 169.5,85.6 169.8,85.2 170,85.1 170.2,84.7 170.5,84.4 170.6,84.2 171.2,83.6 171.6,83.1 171.8,83 172.3,82.4 172.5,82.3 172.7,82 172.9,81.9 173.1,81.6 173.8,81.1 174.4,80.7 175.1,80.2 175.8,79.8 176.1,79.7 176.8,79.4 177,79.3 177.6,79.2 177.7,79.1 178,79.1 178.1,79 179,79 179.1,78.9 179.5,78.9 180.2,79 180.5,79 180.6,79.1 180.9,79.1 181.6,79.3 182,79.5 182.5,79.6 182.7,79.8 182.9,79.8 183.1,80 183.6,80.2 184.1,80.6 184.5,80.9 185.1,81.3 185.4,81.5 185.6,81.8 185.9,82 186.6,82.7 186.8,82.8 187.3,83.4 187.6,83.7 187.7,83.9 188,84.2 188.1,84.4 188.6,84.9 188.8,85.3 189.3,85.8 189.5,86.2 190,86.8 190.2,87.2 190.4,87.4 190.8,88 191.1,88.4 191.3,88.9 191.5,89.1 192,90 192.2,90.2 192.3,90.5 192.5,90.7 192.7,91.2 192.9,91.4 193,91.7 193.2,91.9 193.4,92.4 193.7,92.9 193.8,93.2 194,93.4 194.1,93.7 194.4,94.2 194.5,94.5 195,95.3 195.2,95.9 195.4,96.1 195.5,96.4 195.7,96.7 195.9,97.2 196.1,97.5 196.3,98.1 196.5,98.4 196.6,98.7 196.8,99 197,99.6 197.2,99.9 197.3,100.2 197.5,100.5 197.7,101.1 197.9,101.4 198,101.7 198.2,102 198.4,102.6 198.6,102.9 198.8,103.5 199,103.8 199.1,104.2 199.3,104.5 199.5,105.1 199.7,105.4 199.8,105.8 200,106.1 200.2,106.7 200.4,107 200.5,107.4 200.7,107.7 200.9,108.4 201.1,108.7 201.3,109.4 201.5,109.7 201.6,110 201.8,110.4 202,111 202.3,111.7 202.5,112 202.7,112.7 202.9,113.1 203,113.4 203.2,113.7 203.4,114.4 203.7,115.1 203.8,115.5 204,115.8 204.1,116.2 204.3,116.5 204.5,117.2 204.7,117.5 204.8,117.9 205,118.2 205.2,118.9 205.4,119.3 205.8,120.3 205.9,120.7 206.1,121 206.3,121.7 206.5,122.1 206.6,122.4 206.8,122.8 207,123.5 207.2,123.8 207.3,124.2 207.5,124.5 207.7,125.2 207.9,125.6 208,125.9 208.3,126.6 208.4,127 208.6,127.3 208.8,128 209.1,128.7 209.3,129.1 209.5,129.8 209.7,130.1 209.8,130.5 210,130.8 210.2,131.5 210.4,131.9 210.8,132.9 211.1,133.6 211.3,134.3 211.5,134.6 211.6,134.9 211.8,135.3 212,136 212.2,136.3 212.5,137 212.7,137.6 212.9,138 213,138.3 213.2,138.6 213.4,139.3 213.6,139.6 213.8,140.3 214,140.6 214.1,140.9 214.3,141.2 214.5,141.9 214.7,142.2 214.8,142.5 215,142.8 215.2,143.5 215.4,143.8 215.5,144.1 215.7,144.4 215.9,145 216.1,145.3 216.3,145.9 216.6,146.6 216.8,146.9 217,147.4 217.2,147.7 217.3,148 217.5,148.3 217.7,148.9 217.9,149.2 218,149.5 218.2,149.8 218.4,150.3 218.6,150.6 218.8,151.2 219,151.4 219.1,151.7 219.3,152 219.5,152.5 219.7,152.8 219.8,153.1 220,153.3 220.2,153.8 220.4,154.1 220.5,154.4 220.7,154.6 220.9,155.1 221.3,155.8 221.8,156.6 222.3,157.5 222.5,157.7 222.7,158.2 222.9,158.4 223.3,159 223.4,159.3 223.8,159.9 224,160.1 224.1,160.3 224.3,160.5 224.5,160.9 224.8,161.3 225,161.4 225.2,161.8 225.4,162 225.5,162.2 225.7,162.3 225.9,162.7 226.2,163 226.3,163.2 226.5,163.3 226.6,163.5 226.9,163.8 227,164 227.2,164.1 227.3,164.3 227.6,164.5 227.7,164.7 227.9,164.8 228,165 228.8,165.7 229.4,166.1 229.5,166.3 230,166.6 230.7,167 230.9,167.2 231.1,167.2 231.3,167.4 231.9,167.6 232.2,167.7 232.3,167.8 233,168 233.6,168.1 234.1,168.2 235.9,168.2 236.5,168.1 236.6,168 236.8,168 237.2,167.9 237.5,167.8 238,167.5 238.3,167.4 238.6,167.3 238.8,167.1 239.1,166.9 239.3,166.9 239.5,166.7 240,166.4 240.2,166.2 240.7,165.9 240.9,165.6 241.3,165.3 241.6,165 241.8,164.9 242,164.6 242.2,164.5 242.3,164.3 242.5,164.2 242.7,163.9 243.2,163.4 243.6,162.9 244,162.4 244.1,162.2 244.4,161.9 244.5,161.7 245,161.1 245.2,160.7 245.4,160.5 245.8,159.9 245.9,159.7 246.3,159.1 246.5,158.9 246.6,158.7 246.8,158.5 247,158 247.5,157.3 247.7,156.9 248,156.4 248.2,156.2 248.4,155.7 248.7,155.2 248.8,154.9 249,154.7 249.1,154.4 249.3,154.2 249.5,153.7 249.7,153.4 249.8,153.1 250,152.9 250.2,152.3 250.4,152.1 250.5,151.8 250.8,151.3 250.9,151 251.1,150.7 251.3,150.1 251.5,149.9 251.6,149.6 251.8,149.3 252,148.7 252.2,148.4 252.3,148.1 252.5,147.8 252.7,147.2 252.9,146.9 253,146.6 253.2,146.3 253.4,145.7 253.6,145.4 253.8,144.8 254,144.5 254.1,144.2 254.3,143.9 254.5,143.3 254.8,142.6 255,142.3 255.2,141.7 255.4,141.3 255.5,141 255.7,140.7 255.9,140 256.1,139.7 256.3,139.1 256.6,138.4 256.8,138.1 257,137.4 257.2,137.1 257.3,136.7 257.5,136.4 257.7,135.7 257.9,135.4 258.3,134.4 258.4,134 258.6,133.7 258.8,133 259,132.7 259.1,132.3 259.3,132 259.5,131.3 260,130.2 260.2,129.5 260.4,129.2 260.8,128.2 260.9,127.8 261.1,127.5 261.3,126.8 261.8,125.7 262,125 262.2,124.7 262.3,124.3 262.6,123.6" stroke="#f3a066" stroke-width="1.7"/>
<path d="M40.5,123.6 41.1,123.3 41.3,123 41.6,122.8 41.9,122.4 42,122.2 42.2,122 42.4,121.3 42.6,120.9 42.7,120.5 42.9,120.2 43.1,119.4 43.3,119 43.4,118.6 43.6,118.3 43.8,117.5 44,117.2 44.1,116.8 44.3,116.4 44.5,115.7 44.7,115.3 44.9,114.6 45.1,114.2 45.5,113.2 45.6,112.8 45.8,112.5 45.9,112.1 46.1,111.8 46.3,111.1 46.5,110.7 47,109.4 47.2,109 47.4,108.3 47.6,108 48.1,106.7 48.3,106.4 48.4,106 48.6,105.7 48.8,105.1 49,104.7 49.1,104.4 49.3,104.1 49.5,103.5 49.7,103.2 49.9,102.5 50.1,102.2 50.2,101.9 50.4,101.6 50.6,101 50.8,100.7 50.9,100.4 51.1,100.1 51.3,99.5 51.5,99.2 51.6,98.9 51.8,98.6 52,98 52.2,97.8 52.4,97.2 52.6,96.9 52.7,96.6 53,96.1 53.1,95.8 53.6,95 53.8,94.5 54,94.2 54.1,93.9 54.3,93.7 54.5,93.2 54.7,92.9 54.9,92.4 55.2,91.9 55.4,91.7 55.6,91.2 55.9,90.7 56.1,90.5 56.3,90 56.5,89.8 56.6,89.5 57,88.9 57.2,88.7 57.4,88.2 57.6,88 58,87.4 58.4,86.8 58.7,86.4 58.8,86.2 59,86 59.1,85.8 59.3,85.7 59.5,85.3 59.9,84.8 60.2,84.4 60.4,84.3 60.6,83.9 60.8,83.8 60.9,83.6 61.1,83.5 61.3,83.2 61.6,82.9 61.8,82.8 62.4,82.1 62.6,82 62.7,81.8 63.1,81.5 63.6,81.2 63.8,81 64.3,80.7 64.5,80.5 64.9,80.2 65.1,80.2 65.5,79.9 65.9,79.7 66.1,79.7 66.8,79.4 67,79.3 67.3,79.3 67.9,79.2 68.1,79.1 70.1,79.1 70.2,79.2 70.5,79.2 70.9,79.3 71.6,79.5 72.2,79.8 72.6,80 72.9,80.1 73.1,80.3 73.6,80.5 73.8,80.7 74.4,81.1 74.9,81.5 75.2,81.8 75.5,82 75.6,82.2 76.1,82.5 76.9,83.4 77,83.6 77.2,83.7 77.9,84.5 78.1,84.9 78.3,85 78.8,85.7 79.3,86.3 79.5,86.7 79.9,87.3 80.2,87.7 80.5,88.1 80.6,88.3 80.8,88.5 80.9,88.8 81.2,89.2 81.6,89.9 81.8,90.1 82,90.6 82.2,90.8 82.4,91.3 82.6,91.5 82.7,91.8 82.9,92 83.1,92.5 83.7,93.5 83.8,93.8 84,94 84.1,94.3 84.4,94.8 84.5,95.1 84.8,95.6 84.9,95.9 85.1,96.2 85.2,96.5 85.4,96.7 85.6,97.3 85.8,97.6 85.9,97.9 86.1,98.2 86.3,98.7 86.5,99 86.6,99.3 86.8,99.6 87,100.2 87.2,100.5 87.4,101.1 87.6,101.4 87.7,101.7 87.9,102 88.1,102.6 88.3,102.9 88.4,103.3 88.6,103.6 88.8,104.2 89,104.5 89.1,104.8 89.3,105.1 89.5,105.8 89.7,106.1 89.9,106.7 90.2,107.4 90.4,107.7 90.6,108.4 90.8,108.7 91.2,109.7 91.3,110 91.5,110.4 91.6,110.7 91.8,111 92,111.7 92.2,112 92.4,112.7 92.7,113.4 92.9,113.7 93.1,114.4 93.6,115.5 93.8,116.1 94,116.5 94.1,116.8 94.4,117.5 94.5,117.9 94.7,118.2 94.9,118.9 95.4,120 95.6,120.7 95.8,121 95.9,121.4 96.1,121.7 96.3,122.4 96.5,122.8 96.6,123.1 96.9,123.8 97,124.2 97.2,124.5 97.4,125.2 97.7,125.9 97.9,126.3 98.1,127 98.3,127.3 98.4,127.7 98.6,128 98.8,128.7 99,129.1 99.1,129.4 99.4,130.1 99.5,130.4 99.8,131.1 99.9,131.5 100.1,131.8 100.2,132.2 100.4,132.5 100.6,133.2 100.8,133.5 100.9,133.9 101.1,134.2 101.3,134.9 101.5,135.2 101.6,135.6 101.8,135.9 102,136.6 102.2,136.9 102.4,137.6 102.6,137.9 102.7,138.3 102.9,138.6 103.1,139.2 103.4,139.9 103.6,140.2 103.8,140.9 104,141.2 104.1,141.5 104.3,141.8 104.5,142.5 104.7,142.8 104.9,143.4 105.1,143.7 105.4,144.4 105.6,145 105.8,145.3 105.9,145.6 106.1,145.9 106.3,146.5 106.5,146.8 106.6,147.1 106.8,147.4 107,148 107.2,148.3 107.4,148.9 107.6,149.1 107.7,149.4 107.9,149.7 108.1,150.3 108.6,151.1 108.8,151.7 109,151.9 109.1,152.2 109.4,152.7 109.5,153 109.8,153.5 109.9,153.8 110.1,154 110.2,154.3 110.5,154.8 110.6,155.1 111.1,155.8 111.3,156.3 111.5,156.5 112,157.4 112.4,158.1 112.6,158.3 112.7,158.6 113.1,159.2 113.6,159.8 113.8,160.2 114.3,160.8 114.5,161.2 115.1,161.9 115.4,162.3 115.8,162.8 115.9,163 116.1,163.1 116.3,163.4 116.5,163.6 116.6,163.8 116.8,163.9 117,164.2 117.2,164.3 117.3,164.5 117.5,164.6 117.7,164.9 118,165.1 118.1,165.3 118.7,165.7 118.8,165.9 119.3,166.2 119.5,166.4 120,166.7 120.6,167.1 121.1,167.3 121.5,167.5 122.2,167.8 122.5,167.8 123.1,168 124.4,168.1 124.5,168.2 125.6,168.1 126.1,168 126.5,167.9 126.8,167.8 127.2,167.6 127.6,167.5 128,167.3 128.3,167.1 129,166.7 129.4,166.5 130.2,165.8 130.6,165.5 130.8,165.4 130.9,165.2 131.2,165 131.3,164.8 132.3,163.9 132.6,163.6 132.7,163.4 133,163.1 133.1,162.9 133.6,162.4 134,161.9 134.1,161.7 134.3,161.5 134.5,161.1 135,160.6 135.2,160.2 135.4,160 135.6,159.6 135.9,159.1 136.1,158.9 136.3,158.5 136.5,158.3 136.6,158 136.8,157.8 137.3,156.9 137.5,156.7 137.7,156.2 137.9,156 138.1,155.5 138.7,154.5 138.8,154.2 139,154 139.1,153.7 139.3,153.5 139.5,152.9 139.7,152.7 139.8,152.4 140.1,151.9 140.2,151.6 140.4,151.3 140.6,150.8 140.8,150.5 140.9,150.2 141.1,149.9 141.3,149.3 141.5,149.1 141.6,148.8 141.8,148.5 142,147.9 142.2,147.6 142.3,147.3 142.5,147 142.7,146.4 142.9,146.1 143.1,145.5 143.3,145.2 143.4,144.9 143.6,144.6 143.8,144 144.1,143.3 144.3,143 144.5,142.4 144.7,142.1 144.8,141.7 145,141.4 145.2,140.8 145.4,140.5 145.6,139.8 145.8,139.5 145.9,139.1 146.1,138.8 146.3,138.2 146.5,137.8 146.6,137.5 146.8,137.2 147,136.5 147.2,136.2 147.3,135.8 147.5,135.5 147.7,134.8 147.9,134.5 148.1,133.8 148.3,133.4 148.4,133.1 148.6,132.8 148.8,132.1 149.1,131.4 149.3,131 149.5,130.3 149.7,130 150,129.3 150.2,128.6 150.4,128.3 150.6,127.6 150.8,127.2 151.2,126.2 151.3,125.8 151.5,125.5 151.6,125.1 151.8,124.8 152,124.1 152.5,123 152.7,122.3 152.9,122 153.1,121.3 153.3,120.9 153.4,120.6 153.7,119.9 153.8,119.5 154,119.2 154.1,118.8 154.3,118.5 154.5,117.8 155,116.7 155.2,116.1 155.4,115.7 155.6,115 155.8,114.7 155.9,114.3 156.1,114 156.3,113.3 156.5,113 156.6,112.6 156.8,112.3 157,111.6 157.2,111.3 157.3,110.9 157.5,110.6 157.7,109.9 157.9,109.6 158.1,108.9 158.3,108.6 158.4,108.3 158.6,108 158.8,107.3 159,107 159.1,106.7 159.3,106.3 159.5,105.7 159.7,105.4 160,104.7 160.2,104.1 160.4,103.8 160.6,103.2 160.8,102.9 160.9,102.5 161.1,102.2 161.3,101.6 161.5,101.3 161.6,101 161.8,100.7 162,100.1 162.2,99.8 162.3,99.5 162.5,99.2 162.7,98.7 162.9,98.4 163.1,97.8 163.3,97.5 163.4,97.2 163.7,96.7 163.8,96.4 164,96.1 164.1,95.8 164.3,95.6 164.5,95 164.7,94.8 164.8,94.5 165.1,94 165.2,93.7 165.4,93.5 165.6,92.9 165.8,92.7 165.9,92.4 166.1,92.2 166.3,91.7 166.5,91.5 166.6,91.2 166.8,91 167,90.5 167.2,90.3 167.3,90 167.9,89.1 168.1,88.7 168.3,88.5 168.6,88.1 168.8,87.6 169,87.4 169.1,87.2 169.3,87 169.5,86.6 169.8,86.2 170,86.1 170.2,85.7 170.4,85.5 170.6,85.1 170.8,85 171.2,84.5 171.6,84 171.9,83.7 172.3,83.2 172.5,83.1 172.7,82.8 173.4,82.1 173.7,81.9 173.8,81.7 174.3,81.4 174.8,81 175.2,80.7 175.6,80.4 176.1,80.1 176.8,79.8 177.2,79.6 177.6,79.5 177.7,79.4 177.9,79.4 178.4,79.2 178.7,79.2 178.8,79.1 179.4,79.1 180.2,79 180.5,79 180.6,79.1 181.2,79.1 181.3,79.2 181.8,79.2 182.2,79.4 182.5,79.4 182.9,79.6 183.6,79.9 183.8,80.1 184,80.1 184.5,80.5 185,80.7 185.2,80.9 185.9,81.5 186.5,81.9 186.6,82.1 186.9,82.3 187,82.5 187.3,82.7 187.6,83 187.7,83.2 187.9,83.3 188.1,83.6 188.7,84.2 189,84.6 189.1,84.8 189.3,84.9 189.5,85.3 190,85.8 190.2,86.2 190.4,86.4 190.8,87 191.3,87.8 191.6,88.2 191.8,88.4 192,88.9 192.5,89.5 192.7,90 192.9,90.2 193.4,91.1 193.7,91.6 193.8,91.9 194,92.1 194.1,92.4 194.3,92.6 194.5,93.1 195,93.9 195.2,94.4 195.4,94.7 195.5,95 195.7,95.2 195.9,95.8 196.1,96 196.3,96.6 196.5,96.9 196.6,97.2 196.8,97.4 197,98 197.2,98.3 197.3,98.6 197.5,98.9 197.7,99.5 198.2,100.3 198.4,100.9 198.6,101.2 198.8,101.9 199,102.2 199.1,102.5 199.3,102.8 199.5,103.4 199.7,103.7 199.8,104 200,104.3 200.2,105 200.4,105.3 200.5,105.6 200.7,105.9 200.9,106.6 201.1,106.9 201.3,107.6 201.5,107.9 201.6,108.2 201.8,108.5 202,109.2 202.2,109.5 202.3,109.9 202.5,110.2 202.7,110.9 202.9,111.2 203.3,112.2 203.7,113.2 203.8,113.6 204,113.9 204.1,114.3 204.3,114.6 204.5,115.3 204.7,115.6 204.8,116 205,116.3 205.2,117 205.4,117.4 205.5,117.7 205.7,118 205.9,118.7 206.1,119.1 206.3,119.8 206.5,120.1 206.6,120.5 206.8,120.8 207,121.5 207.5,122.6 207.7,123.3 207.9,123.6 208,124 208.2,124.3 208.4,125 208.7,125.7 208.8,126.1 209,126.4 209.1,126.8 209.3,127.1 209.5,127.8 210,128.9 210.2,129.6 210.4,129.9 210.5,130.3 210.7,130.6 210.9,131.3 211.1,131.6 211.3,132.3 211.5,132.7 211.6,133 211.8,133.4 212,134 212.5,135.1 212.7,135.7 212.9,136.1 213,136.4 213.3,137.1 213.4,137.4 213.8,138.4 214,138.7 214.1,139.1 214.3,139.4 214.5,140.1 214.7,140.4 214.8,140.7 215,141 215.2,141.7 215.4,142 215.5,142.3 215.7,142.6 215.9,143.3 216.1,143.6 216.3,144.2 216.5,144.5 216.6,144.8 216.8,145.1 217,145.7 217.2,146 217.3,146.3 217.5,146.6 217.7,147.2 217.9,147.5 218,147.8 218.2,148.1 218.4,148.7 218.6,149 218.8,149.6 219.3,150.4 219.5,151 220,151.8 220.2,152.3 220.4,152.6 220.5,152.9 220.7,153.1 220.9,153.7 221.1,153.9 221.3,154.4 221.8,155.2 222,155.7 222.2,155.9 222.3,156.2 222.6,156.6 222.7,156.9 222.9,157.1 223.4,158 223.6,158.2 223.8,158.7 224.1,159.1 224.3,159.3 224.5,159.7 225,160.3 225.2,160.7 225.4,160.9 225.8,161.5 225.9,161.7 226.1,161.8 226.3,162.2 226.8,162.7 227,163 227.3,163.4 227.5,163.5 227.7,163.8 228.7,164.8 228.8,165 229.3,165.3 229.5,165.6 230.2,166.1 230.8,166.5 231.3,166.9 231.8,167.1 232,167.3 232.6,167.5 232.7,167.6 232.9,167.6 233.2,167.7 233.6,167.9 233.8,167.9 234.1,168 234.3,168 235.2,168.1 236.6,168.1 237.2,168 237.6,167.9 237.7,167.8 237.9,167.8 238,167.7 238.4,167.6 238.7,167.4 239,167.3 239.1,167.2 239.3,167.2 239.7,166.9 240,166.8 240.2,166.6 240.7,166.3 240.9,166.1 241.5,165.7 241.6,165.5 242.3,164.9 242.5,164.8 242.7,164.5 242.9,164.4 243,164.2 243.2,164.1 243.7,163.5 243.8,163.3 244,163.2 244.1,163 244.4,162.7 244.8,162.1 245,162 245.2,161.6 245.4,161.4 245.5,161.2 245.8,160.9 245.9,160.7 246.3,160.1 246.5,159.9 247,159 247.5,158.4 247.7,157.9 247.9,157.7 248.2,157.3 248.4,156.8 248.6,156.6 248.8,156.1 249.1,155.6 249.3,155.4 249.5,154.9 250,154.1 250.2,153.6 250.7,152.8 250.9,152.3 251.1,152 251.3,151.4 251.5,151.2 251.6,150.9 251.8,150.6 252,150.1 252.2,149.8 252.3,149.5 252.5,149.2 252.7,148.6 252.9,148.3 253,148 253.3,147.5 253.4,147.2 253.6,146.9 253.8,146.3 254,146 254.1,145.7 254.3,145.3 254.5,144.7 254.7,144.4 254.8,144.1 255,143.8 255.2,143.2 255.4,142.9 255.5,142.5 255.7,142.2 255.9,141.6 256.1,141.3 256.3,140.6 256.5,140.3 256.8,139.6 257,139 257.2,138.7 257.3,138.3 257.5,138 257.7,137.3 257.9,137 258.3,136 258.4,135.6 258.6,135.3 258.8,134.6 259,134.3 259.3,133.6 259.5,132.9 259.7,132.6 259.8,132.2 260,131.9 260.2,131.2 260.4,130.9 260.5,130.5 260.7,130.2 260.9,129.5 261.1,129.1 261.3,128.4 261.5,128.1 261.6,127.7 261.8,127.4 262,126.7 262.5,125.6 262.6,125.3" stroke="#f82a18" stroke-width="1.25" stroke-opacity="0.95"/>
<path d="M45.8,109.9 45.9,109.4 46.1,108.9 46.3,108 46.5,107.6 46.6,107.1 46.8,106.7 47,105.9 47.2,105.5 47.4,104.7 47.7,104 48.1,103.3 48.6,102.7 48.8,102.3 49.3,101.7 49.5,101.3" stroke="#202080" stroke-width="1.0"/>
</g>
<rect x="40.5" y="12.2" width="222.10" height="178.20" fill="none" stroke="#4a4a4a" stroke-width="1.25"/>
<path d="M40.50,190.40h-3.6 M40.50,168.12h-3.6 M40.50,145.85h-3.6 M40.50,123.58h-3.6 M40.50,101.30h-3.6 M40.50,79.03h-3.6 M40.50,56.75h-3.6 M40.50,34.48h-3.6 M40.50,12.20h-3.6 M40.50,179.26h-1.9 M40.50,156.99h-1.9 M40.50,134.71h-1.9 M40.50,112.44h-1.9 M40.50,90.16h-1.9 M40.50,67.89h-1.9 M40.50,45.61h-1.9 M40.50,23.34h-1.9 M40.50,190.40v3.4 M96.03,190.40v3.4 M151.55,190.40v3.4 M207.08,190.40v3.4 M262.60,190.40v3.4 M68.26,190.40v1.9 M123.79,190.40v1.9 M179.31,190.40v1.9 M234.84,190.40v1.9" stroke="#4a4a4a" stroke-width="1.25" fill="none"/>
<text x="35.4" y="193.60" font-size="12" text-anchor="end">−3</text>
<text x="35.4" y="171.32" font-size="12" text-anchor="end">−2</text>
<text x="35.4" y="149.05" font-size="12" text-anchor="end">−1</text>
<text x="35.4" y="126.78" font-size="12" text-anchor="end">0</text>
<text x="35.4" y="104.50" font-size="12" text-anchor="end">1</text>
<text x="35.4" y="82.23" font-size="12" text-anchor="end">2</text>
<text x="35.4" y="59.95" font-size="12" text-anchor="end">3</text>
<text x="35.4" y="37.68" font-size="12" text-anchor="end">4</text>
<text x="35.4" y="15.40" font-size="12" text-anchor="end">5</text>
<text x="40.50" y="204.7" font-size="12" text-anchor="middle">0</text>
<text x="96.03" y="204.7" font-size="12" text-anchor="middle">1</text>
<text x="151.55" y="204.7" font-size="12" text-anchor="middle">2</text>
<text x="207.08" y="204.7" font-size="12" text-anchor="middle">3</text>
<text x="262.60" y="204.7" font-size="12" text-anchor="middle">4</text>
<text x="153.5" y="217.9" font-size="12.7" text-anchor="middle">time (s)</text>
<text transform="translate(18.3,103.3) rotate(-90)" font-size="13.1" text-anchor="middle">displacement (mm)</text>
<text x="136.9" y="243.6" font-size="13.2" text-anchor="middle">(<tspan font-weight="bold">a</tspan>)</text>
<rect x="58.3" y="75.8" width="18.4" height="10.4" fill="#b4b4bc" fill-opacity="0.38" stroke="#f4b4b4" stroke-width="1"/>
<rect x="81.1" y="12.2" width="88.40" height="60.80" fill="#fff" stroke="none"/>
<g clip-path="url(#cLI)" fill="none">
<path d="M74.89,89.56 76.15,86.51 77.67,82.94 78.94,80.03 80.46,76.63 81.73,73.86 82.49,72.23 83.76,69.57 85.28,66.47 86.55,63.95 88.07,61.02 89.59,58.19 90.86,55.9 92.89,52.39 94.41,49.88 95.68,47.86 97.2,45.53 98.47,43.67 99.99,41.53 101.26,39.83 102.78,37.88 104.3,36.04 105.57,34.59 107.09,32.94 109.12,30.91 110.39,29.74 112.17,28.23 113.69,27.05 115.46,25.81 117.24,24.72 118.76,23.91 120.54,23.1 122.06,22.52 123.83,21.99 125.1,21.7 127.13,21.4 128.91,21.3 130.68,21.35 132.46,21.55 134.23,21.9 135.75,22.32 138.04,23.16 139.56,23.86 140.83,24.52 142.6,25.58 144.38,26.79 146.41,28.35 147.93,29.65 149.96,31.55 151.48,33.1 153,34.76 155.03,37.13 156.3,38.71 158.33,41.39 160.1,43.89 161.88,46.53 163.4,48.9 165.43,52.22 166.95,54.83 168.22,57.08 170.25,60.83 171.77,63.75 173.04,66.26 174.56,69.36 175.83,72.02 176.08,72.56" stroke="#333" stroke-width="1"/>
<path d="M74.89,88.91 76.15,85.86 77.67,82.28 78.94,79.37 80.46,75.97 81.73,73.2 83.25,69.96 84.52,67.33 86.04,64.27 88.07,60.34 89.59,57.51 90.86,55.22 92.38,52.57 93.65,50.44 95.17,47.97 97.2,44.85 98.47,42.98 99.99,40.84 101.26,39.14 103.54,36.26 104.81,34.76 106.33,33.06 108.36,30.96 109.88,29.51 111.91,27.75 113.18,26.74 115.21,25.29 116.73,24.33 118.25,23.48 120.28,22.52 121.8,21.92 123.83,21.3 125.61,20.92 127.38,20.69 128.91,20.61 130.68,20.66 132.46,20.86 134.74,21.34 136.26,21.8 138.29,22.58 140.32,23.56 141.84,24.42 143.87,25.74 145.39,26.86 146.66,27.87 148.69,29.65 150.21,31.11 151.99,32.95 154.27,35.53 155.54,37.07 157.31,39.34 159.09,41.76 160.61,43.94 161.88,45.84 163.4,48.21 165.43,51.54 166.95,54.14 168.47,56.85 170.25,60.14 171.77,63.06 173.04,65.57 174.56,68.67 175.83,71.33 176.08,71.87" stroke="#f3a066" stroke-width="1.1"/>
<path d="M74.89,88.05 76.15,85.01 77.67,81.43 78.94,78.52 80.46,75.12 81.73,72.35 83.25,69.12 84.52,66.49 86.04,63.43 88.07,59.5 89.59,56.67 90.86,54.38 92.38,51.73 93.65,49.6 95.17,47.13 96.44,45.15 97.96,42.87 99.23,41.05 100.75,38.96 102.02,37.3 103.54,35.4 104.81,33.9 106.33,32.2 108.36,30.09 109.88,28.64 111.91,26.87 113.18,25.85 115.46,24.22 117.24,23.12 119.01,22.17 120.79,21.36 122.31,20.79 123.83,20.33 125.61,19.93 127.38,19.68 129.16,19.56 131.19,19.58 132.96,19.74 134.23,19.94 136.26,20.44 137.53,20.86 139.05,21.49 140.32,22.12 141.59,22.83 143.36,23.96 144.88,25.05 146.91,26.68 148.94,28.5 150.21,29.74 151.99,31.6 153.76,33.61 155.54,35.77 156.55,37.06 157.82,38.75 159.85,41.6 161.37,43.85 162.89,46.21 163.91,47.84 165.43,50.37 166.7,52.55 168.22,55.26 169.74,58.07 171.26,60.98 172.53,63.48 174.56,67.62 176.08,70.83" stroke="#3a3aff" stroke-width="1.15"/>
<path d="M74.89,97.87 76.15,94.67 76.91,92.78 77.67,90.91 78.94,87.85 80.46,84.25 81.73,81.33 83.25,77.9 84.52,75.12 86.04,71.86 87.31,69.22 88.83,66.14 89.59,64.63 90.86,62.18 92.38,59.32 94.41,55.67 95.68,53.47 97.2,50.93 98.47,48.89 99.99,46.54 101.26,44.65 102.78,42.49 104.3,40.42 106.33,37.84 107.6,36.31 109.12,34.58 110.39,33.22 112.67,30.96 114.45,29.37 115.97,28.12 117.49,26.98 119.01,25.95 121.04,24.75 122.82,23.85 124.85,23.01 126.62,22.44 128.65,21.97 130.43,21.71 131.7,21.62 133.72,21.64 135.25,21.78 137.28,22.14 138.8,22.54 140.32,23.05 142.09,23.78 143.62,24.53 145.39,25.54 147.17,26.7 149.2,28.2 151.48,30.12 153,31.54 154.78,33.33 156.55,35.26 158.33,37.34 159.85,39.23 161.88,41.92 162.89,43.33 163.91,44.79 165.43,47.07 166.7,49.04 168.22,51.51 169.74,54.07 171.77,57.64 173.04,59.96 174.56,62.84 176.08,65.81" stroke="#ff1a1a" stroke-width="1"/>
</g>
<path d="M81.1,12.2V73.0H169.5V12.2" fill="none" stroke="#a0a0a0" stroke-width="0.9"/>
<path d="M81.1,72.90h-1.6 M81.1,55.70h-1.6 M81.1,38.50h-1.6 M81.1,21.30h-1.6 M81.1,64.30h-1 M81.1,47.10h-1 M81.1,29.90h-1 M88.20,73.0v1.4 M101.52,73.0v1.4 M114.83,73.0v1.4 M128.14,73.0v1.4 M141.46,73.0v1.4 M154.77,73.0v1.4 M168.09,73.0v1.4" stroke="#888" stroke-width="0.7" fill="none"/>
<text x="79.6" y="76.60" font-size="7.4" textLength="8.5" lengthAdjust="spacingAndGlyphs" text-anchor="end" class="s">1.7</text>
<text x="79.6" y="59.40" font-size="7.4" textLength="8.5" lengthAdjust="spacingAndGlyphs" text-anchor="end" class="s">1.8</text>
<text x="79.6" y="42.20" font-size="7.4" textLength="8.5" lengthAdjust="spacingAndGlyphs" text-anchor="end" class="s">1.9</text>
<text x="79.6" y="25.00" font-size="7.4" textLength="8.5" lengthAdjust="spacingAndGlyphs" text-anchor="end" class="s">2.0</text>
<text x="88.20" y="80.7" font-size="7.4" textLength="12.1" lengthAdjust="spacingAndGlyphs" text-anchor="middle" class="s">0.35</text>
<text x="101.52" y="80.7" font-size="7.4" textLength="12.1" lengthAdjust="spacingAndGlyphs" text-anchor="middle" class="s">0.40</text>
<text x="114.83" y="80.7" font-size="7.4" textLength="12.1" lengthAdjust="spacingAndGlyphs" text-anchor="middle" class="s">0.45</text>
<text x="128.15" y="80.7" font-size="7.4" textLength="12.1" lengthAdjust="spacingAndGlyphs" text-anchor="middle" class="s">0.50</text>
<text x="141.46" y="80.7" font-size="7.4" textLength="12.1" lengthAdjust="spacingAndGlyphs" text-anchor="middle" class="s">0.55</text>
<text x="154.78" y="80.7" font-size="7.4" textLength="12.1" lengthAdjust="spacingAndGlyphs" text-anchor="middle" class="s">0.60</text>
<text x="168.09" y="80.7" font-size="7.4" textLength="12.1" lengthAdjust="spacingAndGlyphs" text-anchor="middle" class="s">0.65</text>
<path d="M197.4,24.50H229" stroke="#333" stroke-width="1.1"/>
<text x="232.2" y="29.30" font-size="11.6">signal</text>
<path d="M197.4,41.65H229" stroke="#ff1a1a" stroke-width="1.1"/>
<text x="232.2" y="46.45" font-size="11.6">PID</text>
<path d="M197.4,58.80H229" stroke="#5656ff" stroke-width="2.0"/>
<text x="232.2" y="63.60" font-size="11.6">FPID</text>
<path d="M197.4,75.95H229" stroke="#f3a066" stroke-width="1.2"/>
<text x="232.2" y="80.75" font-size="11.6">SPID</text>
<g clip-path="url(#cB)" fill="none" stroke-linejoin="round">
<path d="M332.3,95.6 332.5,88.1 332.6,84.5 332.6,81 332.7,77.7 332.9,71.6 333,68.8 333.2,63.7 333.3,61 333.3,58.3 333.5,53.2 333.6,51 333.7,49.1 333.8,47.5 333.9,46.5 334,46.1 334.2,46.6 334.6,48.4 334.7,48.9 334.7,49.4 334.9,50.3 335.3,51.6 335.3,52 336,54.1 336,54.4 336.7,56.4 336.7,56.6 337,57.4 337.4,58.3 337.4,58.5 337.8,59.3 338,59.6 338,59.8 338.4,60.5 338.7,60.9 338.7,61.1 339.2,61.8 339.4,62.2 339.9,62.8 340,63.1 340.3,63.4 340.7,63.9 340.9,64.3 341.4,64.8 341.5,65.1 342.1,65.7 342.2,66 342.7,66.5 342.9,66.9 343.4,67.4 343.4,67.6 343.9,68.1 344.1,68.4 344.5,69 344.8,69.3 344.9,69.6 345.2,69.9 345.4,70.3 345.8,70.8 346.1,71.2 346.2,71.5 346.7,72.1 347,72.7 347.5,73.3 347.5,73.5 347.9,74 348.1,74.3 348.2,74.6 348.7,75.3 349,75.9 349.3,76.3 349.5,76.6 349.5,76.8 349.8,77.2 350.2,77.8 350.2,78 350.5,78.5 350.8,78.9 351.1,79.6 351.5,80.2 351.5,80.4 351.8,80.8 352,81.2 352.2,81.5 352.2,81.7 352.5,82.2 352.9,82.8 352.9,83 353.3,83.7 353.5,84 353.5,84.2 353.9,84.9 354.2,85.4 354.5,86.1 354.9,86.8 355.2,87.5 355.5,88 355.5,88.2 356.1,89.3 356.5,90.2 356.9,90.9 356.9,91.1 357.5,92.2 357.6,92.3 357.7,92.7 358,93.3 358.2,93.6 358.2,93.8 358.5,94.4 358.9,95.1 358.9,95.3 359.6,96.6 359.7,97 360.3,98.1 360.9,99.4 360.9,99.6 361.6,100.9 362.3,102.4 362.9,103.7 363,103.8 363,104 363.4,104.8 363.6,105.1 363.7,105.5 363.9,105.9 364.3,106.6 364.4,107 364.9,107.9 365,108 365,108.2 365.3,108.8 365.7,109.5 366.1,110.4 366.3,110.7 366.4,111.1 366.8,111.8 367,112.1 367,112.3 367.4,113 367.7,113.5 367.9,114 368.2,114.5 368.4,114.8 368.4,115 368.7,115.5 369,116 369.4,116.8 369.7,117.2 369.7,117.4 370,117.9 370.3,118.3 370.5,118.8 370.8,119.2 371,119.5 371,119.7 371.3,120.1 371.7,120.7 372,121.3 372.4,121.8 372.4,122 372.6,122.2 373,122.8 373.2,123.2 373.7,123.8 373.9,124.2 374.1,124.4 374.4,124.8 374.7,125.3 375.1,125.7 375.2,126 375.8,126.6 376.4,127.3 377.1,128.1 377.7,128.8 378.2,129.3 378.5,129.5 378.9,129.9 379.1,130 379.4,130.3 379.7,130.5 379.9,130.7 380.3,130.9 380.5,131.1 380.8,131.2 381.2,131.4 381.5,131.6 381.8,131.7 382.1,131.8 382.5,132 383,132.1 383.4,132.2 384.1,132.3 385.5,132.4 386.1,132.3 386.6,132.2 387,132.1 387.4,131.9 387.8,131.8 388.3,131.5 388.6,131.4 388.9,131.2 389.3,130.9 389.6,130.8 389.9,130.6 390.2,130.3 390.5,130.1 390.7,129.9 391.1,129.6 391.5,129.2 391.9,128.9 392,128.7 392.6,128.2 393.3,127.4 394,126.6 394.5,126 394.7,125.6 395.1,125.2 395.3,124.9 395.7,124.3 396,123.9 396.4,123.3 396.7,122.9 396.9,122.5 397.3,122 397.4,121.7 397.9,121 398,120.9 398,120.7 398.3,120.3 398.6,119.9 398.8,119.4 399.1,119 399.4,118.5 399.6,118 400,117.4 400.4,116.6 400.7,116.2 400.7,116 401,115.5 401.4,114.9 401.4,114.7 401.8,114 402,113.7 402,113.5 402.6,112.5 402.9,111.8 403.2,111.3 403.4,111 403.4,110.8 403.9,109.9 404.1,109.6 404.2,109.2 404.7,108.3 405,107.6 405.4,106.9 405.4,106.7 405.9,105.8 406.1,105.5 406.2,105.1 406.8,104 407.3,102.9 407.8,101.8 408.1,101.3 408.2,100.9 408.8,99.8 409.4,98.5 409.5,98.4 409.5,98.2 409.9,97.4 410.1,97.1 410.2,96.7 410.8,95.6 411.3,94.5 411.5,94.2 411.5,94 411.7,93.6 412.2,92.7 412.5,92 412.8,91.5 412.9,91.1 413.3,90.4 413.5,90.1 413.5,89.9 414,89 414.2,88.7 414.2,88.5 414.6,87.8 414.8,87.5 415.2,86.6 415.5,86.1 415.7,85.6 416,85.1 416.2,84.8 416.2,84.6 416.6,84 416.9,83.5 416.9,83.3 417.4,82.6 417.5,82.4 417.5,82.2 417.8,81.8 418.2,81.1 418.5,80.5 418.8,80.1 419,79.6 419.3,79.2 419.6,78.7 420,78 420.2,77.7 420.4,77.3 420.8,76.8 421,76.3 421.5,75.7 421.8,75.1 422.1,74.8 422.4,74.2 422.7,73.9 422.9,73.5 423.1,73.3 423.6,72.7 423.7,72.4 424.1,72 424.3,71.7 424.9,71 425,70.7 425.6,70.1 426.3,69.3 426.7,68.8 427,68.6 427.5,68 427.7,67.9 428,67.5 428.3,67.3 428.4,67.1 428.8,66.8 429,66.7 429.4,66.3 429.7,66.1 429.9,65.9 430.2,65.7 430.4,65.5 430.7,65.4 430.9,65.2 431.2,65 431.5,64.9 431.7,64.7 432.2,64.5 432.5,64.3 432.9,64.2 433.2,64 433.6,63.9 434,63.7 434.6,63.6 435,63.5 435.6,63.4 436.6,63.3 437.3,63.2 438.4,63.3 438.9,63.4 439.3,63.5 439.8,63.6 440.2,63.8 440.6,63.9 441,64.1 441.3,64.2 441.7,64.4 442,64.6 442.3,64.7 442.5,64.8 442.7,65 443,65.1 443.3,65.4 443.6,65.5 444,65.9 444.5,66.2 444.8,66.5 445.5,67.1 445.8,67.3 445.9,67.5 447.2,68.7 447.9,69.4 448.5,70.1 448.9,70.6 449.2,71 449.8,71.7 449.9,72 450.4,72.5 450.6,72.8 450.9,73.3 451.2,73.6 451.2,73.8 451.5,74.1 451.9,74.6 451.9,74.8 452.1,75 452.5,75.5 452.8,76.1 453.2,76.6 453.5,77.2 453.9,77.7 453.9,77.9 454.4,78.6 454.6,78.9 454.7,79.2 455.2,79.9 455.4,80.4 455.7,80.9 456,81.3 456,81.5 456.3,81.9 456.5,82.3 456.6,82.4 456.8,82.9 457.3,83.7 457.5,84.2 458,85 458,85.2 458.6,86.2 458.8,86.7 459.3,87.5 459.4,87.9 459.7,88.4 460,88.9 460,89.1 460.4,89.8 460.7,90.3 460.7,90.5 461.1,91.2 461.3,91.5 461.4,91.9 461.9,92.8 462,92.9 462,93.1 462.3,93.7 462.7,94.4 462.7,94.6 463.3,95.7 463.7,96.6 464,97.1 464,97.3 464.2,97.7 464.7,98.6 464.7,98.8 465.3,99.9 465.8,101 466.1,101.5 466.2,101.9 466.7,102.8 466.7,103 467.3,104.1 467.7,105 468.1,105.7 468.2,106.1 468.7,107 468.8,107.1 468.9,107.5 469.4,108.4 469.4,108.6 469.8,109.3 470.1,109.8 470.5,110.7 470.8,111.2 471.2,112.1 471.5,112.6 471.7,113.1 472,113.6 472.1,113.7 472.2,114.1 472.5,114.6 472.8,115.1 473,115.6 473.3,116 473.6,116.7 473.9,117.2 474.1,117.5 474.2,117.8 474.5,118.3 474.8,118.7 475,119.2 475.3,119.6 475.5,119.9 475.5,120.1 475.9,120.6 476.2,121.1 476.4,121.5 476.8,122 476.9,122.3 477.3,122.8 477.5,123.1 477.7,123.5 478.2,124.1 478.2,124.3 478.6,124.7 478.9,125.1 479.2,125.6 479.5,125.9 479.9,126.5 480.2,126.8 480.9,127.6 481.6,128.4 481.7,128.6 482.2,129 482.8,129.6 483.1,129.9 483.4,130.1 483.6,130.2 483.7,130.4 484,130.6 484.3,130.7 484.4,130.9 484.9,131.1 485.3,131.4 485.6,131.5 486,131.8 486.4,131.9 486.9,132.1 487.3,132.2 487.7,132.3 488.3,132.4 490.1,132.5 490.7,132.4 491,132.3 491.4,132.2 491.9,132 492.3,131.9 492.5,131.7 492.9,131.6 493.3,131.3 493.6,131.2 493.9,130.9 494.2,130.8 494.5,130.5 494.9,130.3 495.1,130 495.5,129.7 495.8,129.4 497.1,128.2 497.3,127.9 497.7,127.6 498.1,127.1 498.4,126.7 499.1,125.9 499.2,125.6 499.6,125.2 499.8,124.9 500.2,124.3 500.4,124.1 500.4,123.9 500.7,123.6 501.1,123 501.4,122.5 501.8,122 502,121.5 502.4,121 502.5,120.7 502.8,120.3 503.1,119.8 503.2,119.5 503.7,118.8 503.9,118.3 504.4,117.6 504.5,117.4 504.5,117.2 504.8,116.8 505,116.4 505.1,116.3 505.4,115.6 505.8,115 506.1,114.3 506.4,113.8 506.5,113.7 506.5,113.5 506.9,112.8 507.2,112.3 507.2,112.1 507.5,111.6 507.8,111.1 508.2,110.2 508.5,109.7 508.5,109.5 509,108.6 509.2,108.3 509.2,108.1 509.8,107 510.2,106.1 510.5,105.6 510.5,105.4 511.2,104.1 511.6,103.2 511.9,102.7 511.9,102.5 512.1,102.1 512.6,101.2 512.6,101 513.2,99.9 513.7,98.8 513.9,98.5 513.9,98.3 514.2,97.7 514.6,97 514.6,96.8 515.2,95.7 515.6,94.8 515.9,94.3 515.9,94.1 516.5,93 516.6,92.9 516.6,92.7 516.9,92.1 517.3,91.4 517.7,90.5 518,90 518,89.8 518.4,89.1 518.6,88.8 518.6,88.6 519,87.9 519.3,87.4 519.6,86.7 519.9,86.2 520,86.1 520,85.9 520.4,85.2 520.6,84.9 520.6,84.7 521.1,83.9 521.3,83.6 521.3,83.4 521.6,83 521.8,82.6 522,82.3 522.1,82 522.4,81.5 522.7,81.1 522.9,80.6 523.2,80.2 523.4,79.7 523.7,79.3 524,78.8 524.1,78.5 524.5,78 524.7,77.7 524.8,77.4 525.1,77 525.4,76.6 525.4,76.4 525.6,76.2 525.9,75.7 526.3,75.1 526.7,74.6 526.8,74.3 527,74.1 527.4,73.6 527.4,73.4 527.8,73 528.1,72.6 528.4,72.1 528.7,71.8 529,71.3 529.4,70.9 530.1,70.1 530.8,69.3 531.4,68.6 531.5,68.4 532.1,67.9 532.7,67.3 533.1,66.9 533.4,66.7 533.7,66.4 534,66.2 534.5,65.8 534.9,65.5 535.4,65.2 535.9,64.9 536.4,64.6 536.7,64.5 536.9,64.3 537.1,64.3 537.4,64.1 537.8,64 538.1,63.9 538.4,63.7 538.7,63.7 539.1,63.5 539.5,63.5 540.1,63.4 541.2,63.3" stroke="#ff1a1a" stroke-width="1.2"/>
<path d="M332.3,95.6 332.5,87.7 332.6,84 332.6,80.5 332.7,77.1 332.8,74 332.9,71.2 333,68.6 333.3,61.7 333.3,59.5 333.4,57.4 333.5,55.5 333.6,53.9 333.7,52.6 333.8,51.8 333.9,51.5 334,52 334,53.3 334.1,55.2 334.2,57.6 334.5,65.8 334.6,68.3 334.7,70.5 334.7,72.3 334.9,75.9 335.1,79.4 335.3,82.7 335.3,84.4 335.7,90.8 336,95.3 336,96.8 336.2,99.8 336.7,106.9 336.7,108.2 337.2,114.8 337.4,117.3 337.4,118.5 337.7,122.3 338,126 338,127.2 338.2,129.9 338.6,136.1 338.7,137.7 338.7,139.3 339,143.8 339.2,146.3 339.4,148.4 339.4,149.1 339.5,149.7 339.7,150.3 339.8,149.6 339.9,147.1 340,143.4 340,138.8 340.2,128.8 340.3,124.3 340.4,120.7 340.5,117.7 340.7,111.1 340.7,107.9 340.9,101.9 341,99.2 341.1,97 341.2,95.2 341.3,94 341.4,93.4 341.5,93.7 341.6,94.2 341.9,96.3 342,96.9 342.1,97.3 342.5,97 342.7,96.7 342.7,96.5 342.9,96.3 343.4,96.3 343.9,96.5 344.2,96.7 344.5,96.8 345,97.1 345.8,97.1 348.1,97.2 371.2,97.3 372.5,97.2 373.6,97.1 374.4,97 375.3,96.9 376.2,96.8 377,96.7 377.8,96.6 378.6,96.5 379.5,96.4 380.5,96.3 381.5,96.2 382.5,96.1 383.5,96 384.4,95.9 385.2,95.8 385.9,95.7 386.5,95.6 387,95.5 387.4,95.4 387.9,95.3 388.2,95.2 388.7,95.1 389.2,95 391.1,94.9 400.4,94.8 400.9,94.9 402,94.8 402.7,94.7 403.3,94.6 403.8,94.5 404.4,94.4 405.1,94.3 406.5,94.2 408.1,94.1 408.8,94 409.3,93.9 409.6,93.8 410,93.7 410.2,93.5 410.6,93.4 411,93.1 411.7,93 412.2,93.4 412.8,94.1 413.2,94.2 413.5,94.3 414.2,94.4 414.6,94.3 415,94.2 415.6,94.8 415.9,94.8 416.2,94.6 416.5,94.3 416.8,94.2 417.2,94.1 417.7,94.5 420,94.6 420.7,94.5 421.2,94.4 421.8,94.3 422.4,94.2 429.2,94.1 431.5,94.2 432.5,94.3 433.4,94.4 434.2,94.5 434.9,94.6 435.5,94.7 436.1,94.8 436.7,94.9 437.4,95 438,95.1 438.6,95.2 439.3,95.3 440,95.4 440.7,95.5 441.4,95.6 442,95.7 442.6,95.8 443.2,95.9 443.8,96 444.5,96.1 445.1,96.2 445.7,96.3 446.4,96.4 447.2,96.5 447.9,96.6 449,96.7 450.4,96.8 451.9,96.9 453.7,97 455.9,97.1 471.2,97.2 473.4,97.1 475.1,97 476.7,96.9 478.2,96.8 479.5,96.7 480.7,96.6 481.6,96.5 482.6,96.4 483.5,96.3 484.3,96.2 485.2,96.1 486.1,96 487,95.9 487.8,95.8 488.7,95.7 489.5,95.6 490.3,95.5 491,95.4 491.7,95.3 492.5,95.2 493.2,95.1 494,95 494.8,94.9 495.7,94.8 496.4,94.7 497.4,94.6 498.4,94.5 499.5,94.4 500.5,94.3 501.7,94.2 502.9,94.1 504.2,94 505.5,93.9 507.1,93.8 508.6,93.7 510.2,93.6 511.9,93.5 513.9,93.4 519.7,93.3 522.3,93.4 524.3,93.5 526,93.6 527.8,93.7 529.2,93.8 530.3,93.9 531.4,94 532.3,94.1 533.3,94.2 534.1,94.3 535,94.4 535.9,94.5 536.8,94.6 537.6,94.7 538.4,94.8 539.1,94.9 539.9,95 540.6,95.1 541.2,95.2" stroke="#f6b07e" stroke-width="1.25"/>
<path d="M340.7,107.3 340.7,106.3 340.9,104.9 341.3,102.9 341.4,102.6 341.4,102.2 341.7,101.7 341.9,101.7 342.3,101.6 342.9,101.5 343.7,101.4 344.2,101.3 344.7,101.2 345.2,101 345.8,100.9 346.2,100.8 346.8,100.7 352.4,100.6 354.8,100.7 355.8,100.8 356.6,100.9 357.3,101 357.8,101.1 358.2,101.2 358.5,101.4 358.8,101.5 358.9,101.7 359.2,101.9 359.7,102.3 360.2,102.5 361.2,102.6 362,102.5 362.5,102.4 363,102.3 363.5,102.2 363.9,102.1 364.3,102 364.7,101.9 365.2,101.8 365.7,101.7 366.2,101.6 366.7,101.5 367.2,101.4 367.7,101.3 368.2,101.2 368.6,101.1 369.1,101 369.6,100.9 370,100.8 370.4,100.7 370.9,100.6 371.4,100.5 371.8,100.4 372.2,100.3 372.6,100.2 373.1,100.1 373.5,100 373.9,99.9 374.3,99.8 374.7,99.7 375.1,99.6 375.5,99.5 375.9,99.4 376.3,99.3 376.7,99.2 377.1,99.1 377.5,99 377.8,98.9 378.2,98.8 378.6,98.7 379,98.6 379.3,98.5 379.7,98.4 380.2,98.2 380.4,98.2 380.9,98 381.1,98 381.5,97.8 381.8,97.8 382.2,97.6 382.7,97.5 383,97.4 383.3,97.3 383.6,97.2 383.9,97.1 384.2,96.9 384.5,96.9 384.9,96.7 385.4,96.5 385.7,96.4 386,96.2 386.4,96.1 386.8,95.8 387.1,95.7 387.4,95.5 387.7,95.4 387.9,95.2 388.4,95 388.6,94.9 389,94.6 389.3,94.5 389.8,94.2 390.1,94.1 390.4,93.9 390.6,93.9 390.9,93.7 391.3,93.6 391.7,93.4 392,93.2 392.2,93.2 392.7,93 393,92.9 393.3,92.8 393.7,92.6 394.2,92.4 394.4,92.4 394.9,92.2 395.1,92.2 395.5,92.1 396,92 396.6,91.9 397.3,91.8 398.1,91.7 399.1,91.6 399.9,91.5 400.6,91.4 401.1,91.3 401.6,91.2 402,91.1 402.5,91 402.9,90.9 403.4,90.8 404.1,90.7 404.7,90.6 405.4,90.5 406.1,90.4 406.8,90.3 407.6,90.2 408.3,90.1 409,90 409.5,89.9 409.9,89.8 410.2,89.7 410.7,89.5 411.5,88.8 411.8,88.5 412.1,88.5 412.5,89 412.7,89.4 412.8,89.5 412.9,89.8 413.3,90.1 413.5,90.1 413.9,90.3 414.2,90.3 414.7,90.4 415.4,90.5 416.4,90.6 417.4,90.7 418.2,90.8 419.1,90.9 420,91 420.8,91.1 421.6,91.2 422.5,91.3 423.4,91.4 424.2,91.5 425,91.6 425.6,91.7 426.4,91.8 427,91.9 427.7,92 428.3,92.1 428.9,92.2 429.4,92.3 429.9,92.4 430.4,92.5 430.9,92.6 431.4,92.8 431.6,92.8 432,93 432.3,93 432.6,93.1 433,93.3 433.4,93.4 433.9,93.6 434.3,93.7 434.7,93.9 435.2,94.1 435.7,94.3 436.2,94.5 436.5,94.7 437,94.8 437.4,95 437.8,95.1 438,95.3 438.2,95.3 438.5,95.5 439,95.6 439.3,95.7 439.6,95.8 439.9,96 440.1,96 440.5,96.1 440.9,96.3 441.4,96.5 441.6,96.5 441.9,96.7 442.1,96.7 442.5,96.9 443,97 443.4,97.2 443.8,97.3 444.1,97.4 444.5,97.6 444.9,97.7 445.2,97.8 445.7,98 446.1,98.1 446.5,98.2 446.9,98.4 447.1,98.4 447.5,98.6 447.8,98.6 448.1,98.7 448.5,98.8 448.8,98.9 449.2,99 449.7,99.1 450.1,99.2 450.6,99.3 451.1,99.4 451.5,99.5 452,99.6 452.6,99.7 453.1,99.8 453.7,99.9 454.2,100 454.8,100.1 455.4,100.2 456,100.3 456.6,100.4 457.2,100.5 457.8,100.6 458.4,100.7 459.1,100.8 459.8,100.9 460.6,101 461.3,101.1 461.9,101.2 462.4,101.3 462.8,101.4 463.3,101.7 463.8,102 464.3,102.3 464.6,102.3 465.1,102.4 465.5,102.3 465.8,102.2 466.1,102.1 466.5,101.8 466.8,101.7 467.3,101.4 467.6,101.3 468,101.1 468.5,101 469,100.9 469.5,100.8 470.1,100.7 470.7,100.6 471.4,100.5 472.1,100.4 473,100.3 473.8,100.2 474.7,100.1 475.5,100 476.2,99.9 476.8,99.8 477.5,99.7 478.1,99.6 478.6,99.5 479,99.4 479.5,99.3 480,99.2 480.5,99.1 480.9,99 481.4,98.9 481.8,98.8 482.2,98.7 482.6,98.6 483,98.5 483.4,98.4 483.8,98.3 484.2,98.2 484.6,98.1 485,97.9 485.3,97.9 485.6,97.8 486.1,97.7 486.5,97.5 486.8,97.5 487.1,97.4 487.5,97.3 487.8,97.2 488.2,97.1 488.7,96.9 489.1,96.8 489.5,96.6 490,96.5 490.3,96.4 490.6,96.3 491,96.1 491.5,96 491.9,95.8 492.3,95.7 492.7,95.5 493.1,95.4 493.5,95.2 493.7,95.2 494,95 494.4,94.9 494.8,94.8 495.2,94.6 495.6,94.5 495.9,94.3 496.2,94.3 496.5,94.1 497.1,94 497.4,93.8 497.7,93.8 498,93.7 498.3,93.6 498.6,93.5 499,93.3 499.6,93.2 499.9,93 500.2,93 500.5,92.9 500.8,92.8 501.1,92.7 501.5,92.6 501.8,92.5 502.1,92.4 502.5,92.3 502.8,92.2 503.1,92.1 503.5,91.9 503.8,91.9 504.1,91.8 504.5,91.7 504.8,91.6 505.1,91.5 505.6,91.4 506,91.2 506.3,91.2 506.6,91.1 507.1,91 507.5,90.8 507.8,90.8 508.3,90.7 508.7,90.6 509.2,90.5 509.7,90.4 510.2,90.3 510.7,90.2 511.2,90.1 511.8,90 512.2,89.9 512.7,89.8 513.2,89.7 513.6,89.5 513.9,89.5 514.3,89.4 514.6,89.3 515,89.1 515.4,88.9 515.8,88.8 516.1,88.6 516.7,88.6 517,88.8 517.6,89.3 518.1,89.7 518.6,89.8 519,89.9 519.4,90 520,90.1 520.6,90.2 521.4,90.3 522.4,90.4 523.4,90.5 524.6,90.6 525.5,90.7 526.4,90.8 527.1,90.9 527.6,91 528.1,91.1 528.7,91.2 529.1,91.3 529.6,91.4 530.1,91.5 530.5,91.6 530.9,91.8 531.3,91.8 531.6,91.9 532.1,92 532.5,92.2 532.8,92.2 533.2,92.3 533.6,92.4 534,92.5 534.4,92.6 534.8,92.7 535.2,92.8 535.6,93 536,93 536.4,93.1 536.8,93.2 537.3,93.3 537.7,93.4 538.2,93.5 538.7,93.6 539.1,93.7 539.5,93.8 540.1,93.9 540.5,94 541,94.1 541.2,94.2" stroke="#1f1fff" stroke-width="1.4"/>
<path d="M332.3,95.65 332.39,91.63 332.47,87.74 332.65,80.48 332.82,74.03 332.91,71.16 333.08,66.22 333.26,61.73 333.34,59.5 333.52,55.49 333.69,52.62 333.78,51.81 333.87,51.52 333.95,52 334.04,53.28 334.13,55.21 334.22,57.61 334.39,63.09 334.56,68.35 334.65,70.46 334.83,74.1 334.91,75.88 335.09,79.35 335.26,82.72 335.43,86 335.7,90.75 335.96,95.33 336.22,99.77 336.48,104.08 336.65,106.88 336.92,110.9 337.26,116.04 337.44,118.55 337.79,123.49 338.05,127.2 338.31,131.38 338.66,137.71 338.83,140.85 339.09,145.11 339.35,148.37 339.53,149.74 339.61,150.12 339.7,150.28 339.79,149.58 339.88,147.15 339.96,143.4 340.05,138.79 340.14,133.78 340.22,128.8 340.31,124.3 340.4,120.75 340.49,117.65 340.57,114.42 340.75,107.9 340.83,104.77 340.92,101.86 341.09,96.98" stroke="#f6b07e" stroke-width="1.2"/>
<path d="M332.3,95.65 332.39,91.95 332.47,88.32 332.65,81.36 332.74,78.05 332.82,74.87 333.08,66.22 333.26,60.63 333.34,57.7 333.52,51.93 333.69,46.76 333.78,44.58 333.87,42.75 333.95,41.37 334.04,40.48 334.13,40.18 334.22,40.48 334.3,41.32 334.39,42.58 334.48,44.18 334.74,49.97 334.91,53.65 335.09,57.02 335.35,62.4 335.7,69.95 335.78,71.89 335.96,75.77 336.13,79.65 336.31,83.5 336.39,85.4 336.57,89.19 336.92,97.37 337,99.48 337.18,103.69 337.26,105.76 337.44,109.77 337.52,111.67 337.7,115.22 337.87,118.33 338.13,122.05 338.48,126.61 338.74,129.36 338.92,130.53 339.09,130.95 339.18,130.7 339.27,130.04 339.44,127.72 339.53,126.18 339.88,119.08 339.96,117.38 340.05,115.83 340.4,110.76 340.57,108.35 340.83,105.5 341.09,103.85" stroke="#3030e8" stroke-width="1.15"/>
<path d="M332.3,95.65 332.39,91.82 332.47,88.1 332.65,81.04 332.82,74.57 333.08,66.22 333.26,61 333.34,58.31 333.52,53.21 333.69,49.05 333.78,47.54 333.87,46.52 333.95,46.07 334.13,46.29 334.39,47.41 334.74,49.43 335.17,51.29 335.87,53.82 336.65,56.37 337.35,58.27 338.13,59.97 339.35,62.06 340.66,63.92 341.09,64.49" stroke="#ff1a1a" stroke-width="1.0" stroke-opacity="0.6"/>
</g>
<rect x="332.3" y="11.6" width="208.90" height="168.10" fill="none" stroke="#4a4a4a" stroke-width="1.25"/>
<path d="M332.30,179.70h-3.2 M332.30,158.69h-3.2 M332.30,137.68h-3.2 M332.30,116.66h-3.2 M332.30,95.65h-3.2 M332.30,74.64h-3.2 M332.30,53.62h-3.2 M332.30,32.61h-3.2 M332.30,11.60h-3.2 M332.30,169.19h-1.7 M332.30,148.18h-1.7 M332.30,127.17h-1.7 M332.30,106.16h-1.7 M332.30,85.14h-1.7 M332.30,64.13h-1.7 M332.30,43.12h-1.7 M332.30,22.11h-1.7 M332.30,179.70v3.0 M384.53,179.70v3.0 M436.75,179.70v3.0 M488.98,179.70v3.0 M541.20,179.70v3.0 M358.41,179.70v1.7 M410.64,179.70v1.7 M462.86,179.70v1.7 M515.09,179.70v1.7" stroke="#4a4a4a" stroke-width="1.25" fill="none"/>
<text x="326.7" y="182.60" font-size="10.6" text-anchor="end">−0.20</text>
<text x="326.7" y="161.59" font-size="10.6" text-anchor="end">−0.15</text>
<text x="326.7" y="140.58" font-size="10.6" text-anchor="end">−0.10</text>
<text x="326.7" y="119.56" font-size="10.6" text-anchor="end">−0.05</text>
<text x="326.7" y="98.55" font-size="10.6" text-anchor="end">0.00</text>
<text x="326.7" y="77.54" font-size="10.6" text-anchor="end">0.05</text>
<text x="326.7" y="56.52" font-size="10.6" text-anchor="end">0.10</text>
<text x="326.7" y="35.51" font-size="10.6" text-anchor="end">0.15</text>
<text x="326.7" y="14.50" font-size="10.6" text-anchor="end">0.20</text>
<text x="332.30" y="192.6" font-size="10.6" text-anchor="middle">0</text>
<text x="384.53" y="192.6" font-size="10.6" text-anchor="middle">1</text>
<text x="436.75" y="192.6" font-size="10.6" text-anchor="middle">2</text>
<text x="488.98" y="192.6" font-size="10.6" text-anchor="middle">3</text>
<text x="541.20" y="192.6" font-size="10.6" text-anchor="middle">4</text>
<text x="440.5" y="206.5" font-size="10.8" text-anchor="middle">time (s)</text>
<text transform="translate(297.2,95.1) rotate(-90)" font-size="11" text-anchor="middle">tracking error (mm)</text>
<text x="412.4" y="243.6" font-size="13.2" text-anchor="middle">(<tspan font-weight="bold">b</tspan>)</text>
<rect x="401.4" y="87.3" width="18.2" height="8.8" fill="#b4b4bc" fill-opacity="0.45" stroke="#f4b0b0" stroke-width="1"/>
<path d="M434.8,125.3 L415.8,97.6" stroke="#333" stroke-width="0.8" fill="none" marker-end="url(#ah)"/>
<rect x="409.5" y="125.5" width="67.10" height="45.60" fill="#fff" stroke="#b5b5b5" stroke-width="0.9"/>
<g clip-path="url(#cRI)" fill="none" stroke-linejoin="round">
<path d="M407.2,288.32 408.64,284.2 410.09,280.02 411.1,277.07 412.54,272.79 413.41,270.21 414.7,266.29 415.86,262.78 416.72,260.12 417.73,257 418.89,253.42 420.62,247.99 421.92,243.89 423.07,240.22 424.52,235.6 425.38,232.82 426.54,229.1 427.69,225.36 428.85,221.61 430,217.85 431.01,214.55 431.88,211.72 433.03,207.93 434.04,204.61 434.91,201.77 435.77,198.92 437.36,193.7 438.8,188.95 439.81,185.62 440.68,182.78 441.69,179.46 442.56,176.62 443.85,172.36 444.86,169.06 445.87,165.76 447.17,161.53 448.33,157.79 449.77,153.13 451.21,148.49 452.51,144.34 453.81,140.2 455.11,136.1 456.26,132.47 457.56,128.42 458.57,125.28 459.87,121.28 461.17,117.31 462.47,113.38 463.62,109.91 465.07,105.62 466.22,102.22 467.52,98.43 469.25,93.45 470.55,89.76 471.99,85.72 473,82.92 474.3,79.37 475.31,76.64 476.32,73.94 477.91,69.77 479.07,66.78 479.21,66.4" stroke="#ff3030" stroke-width="1"/>
<path d="M407.2,163.1 411.1,163.1 412.1,163 412.8,162.9 413.5,162.8 413.8,162.7 414.1,162.7 414.4,162.6 414.6,162.6 415.1,162.5 415.4,162.4 415.6,162.4 416,162.3 416.1,162.2 416.4,162.2 416.9,162.1 417.3,162 417.4,161.9 417.7,161.9 418.2,161.8 418.3,161.7 418.9,161.6 419.3,161.5 419.8,161.4 420.2,161.2 420.5,161.2 421.2,161 421.8,160.9 421.9,160.8 422.2,160.8 422.9,160.6 423.1,160.6 423.7,160.5 423.9,160.4 424.2,160.4 424.8,160.3 424.9,160.2 425.4,160.2 426.2,160.1 427.1,160 428.3,159.9 428.4,159.8 429.6,159.8 429.7,159.7 431,159.7 431.4,159.6 432.6,159.6 433.9,159.5 434.9,159.4 435.9,159.3 436.2,159.2 436.6,159.2 436.9,159.1 437.4,159.1 437.9,159 438.4,158.9 438.8,158.8 438.9,158.7 439.1,158.7 439.5,158.5 440,158.4 440.4,158.2 440.8,158.1 441.3,157.9 441.7,157.7 442.1,157.5 442.4,157.4 442.6,157.4 442.8,157.2 443.3,157 443.7,156.7 444.3,156.3 444.7,156 445.3,155.6 446,155.1 446.5,154.8 447,154.5 447.5,154.3 447.8,154.3 448,154.2 448.3,154.2 448.5,154.1 448.9,154.2 449.3,154.5 449.8,155 449.9,155.2 450.1,155.4 450.3,155.8 450.8,156.5 450.9,156.7 451.1,156.9 451.2,157.2 451.5,157.6 451.6,157.9 451.8,158.1 451.9,158.3 452.1,158.5 452.2,158.7 452.4,158.8 452.5,159 452.7,159.1 452.9,159.4 453.2,159.6 453.7,159.8 454.1,160 454.4,160.2 454.8,160.4 455.4,160.6 455.8,160.7 456.1,160.8 456.4,160.9 457.3,160.9 457.4,160.8 457.7,160.8 458.4,160.6 458.9,160.4 459.4,160.3 459.7,160.2 460.4,160.1 460.9,160.1 461.2,160.3 461.3,160.5 461.5,160.6 461.7,161 461.9,161.2 462,161.5 462.5,162.1 463,162.7 463.3,162.9 463.8,162.9 463.9,162.8 464.1,162.8 464.3,162.6 464.8,162.3 465.5,161.6 465.6,161.4 465.8,161.3 465.9,161.1 466.9,160.1 467.1,160 467.2,159.8 467.7,159.6 468.7,159.5 469.3,159.9 470.1,160.6 470.3,160.7 470.4,160.9 470.8,161.2 471.1,161.5 471.4,161.7 471.6,161.7 471.7,161.8 472.4,161.9 477.2,161.9 477.9,161.8 478.3,161.8 478.6,161.7 479.1,161.7 479.2,161.6" stroke="#f8c09a" stroke-width="1.1"/>
<path d="M407.2,146 407.3,146.3 407.5,146.4 407.6,146.8 407.8,146.4 408.1,146.3 408.2,146.4 408.4,146.2 408.6,146.5 408.8,145.9 408.9,145.9 409.1,145.6 409.2,146 409.5,146.1 409.7,146.3 409.8,145.6 409.9,146.1 410.1,146.1 410.2,145.8 410.4,145.4 410.7,145.9 410.8,145.8 411,145.4 411.2,145.7 411.5,145.3 411.7,144.9 411.8,145.7 412,145.5 412.1,145.5 412.3,145.8 412.4,145.4 412.5,145.4 412.7,144.8 412.8,145.1 413,145.4 413.1,144.8 413.3,145 413.4,145.3 413.5,145 413.7,144.9 413.8,145 414,144.7 414.1,145.2 414.3,144.7 414.4,144.3 414.6,144.3 415,144 415.1,144.6 415.3,144.1 415.4,144.7 415.6,144.4 415.7,144.6 415.9,143.9 416,143.8 416.1,144.1 416.3,143.6 416.4,144.1 416.7,143.8 416.9,144.1 417,143.7 417.2,143.3 417.3,144 417.4,143.4 417.6,143.7 417.7,143.1 417.9,143.4 418.2,143.3 418.5,143.7 418.6,143 418.7,143.7 418.9,143.2 419,143.1 419.2,143.4 419.3,143.1 419.5,142.9 419.8,143.3 419.9,143.8 420,143.2 420.5,143.1 420.6,142.8 420.8,143 420.9,142.8 421.1,142.6 421.2,143 421.3,142.8 421.5,142.2 421.8,143 421.9,142.6 422.1,142.4 422.2,142.2 422.5,142.6 422.6,142.6 422.8,142.3 423.1,142.5 423.4,142.4 423.5,142.1 423.7,142.4 423.9,142 424.1,142.1 424.2,142.4 424.4,141.8 424.5,142.3 424.7,142 424.9,142.5 425.1,141.9 425.4,142 425.5,141.9 425.7,142.1 426,141.9 426.1,141.3 426.2,141.6 426.4,141.9 426.5,141.6 426.7,141.8 426.8,141.8 427,141.4 427.1,141.8 427.3,142 427.5,141.5 427.7,141.5 427.8,141.2 428,141.6 428.1,141.3 428.4,141.4 428.7,141.2 428.8,141.5 429,141 429.1,141.6 429.3,141.2 429.6,141.1 429.7,141.3 429.9,141.1 430,141.1 430.1,140.8 430.3,141.2 430.4,141 430.6,141 430.7,141.3 430.9,140.3 431,140.9 431.2,141.2 431.3,140.5 431.4,141.1 431.7,140.5 431.9,140.9 432.2,140.8 432.3,140.7 432.5,141 432.6,140.9 432.7,140.6 432.9,140.3 433,140.3 433.2,140.1 433.5,140.5 433.6,140.4 433.8,140.9 433.9,140.6 434,140.6 434.2,140.2 434.3,140.1 434.5,140.4 434.6,140.4 434.8,140.6 434.9,140.2 435.2,140 435.3,140.3 435.5,139.6 435.9,140.1 436.2,139.9 436.5,139.8 436.8,139.5 436.9,139.5 437.1,139.8 437.2,139.7 437.5,139.8 437.6,139.2 437.8,139.7 437.9,139.1 438.1,139.7 438.2,139.5 438.4,139.3 438.5,139.5 438.7,139.4 438.9,139.5 439.1,139.4 439.2,139.5 439.4,138.9 439.5,139.3 439.7,138.8 439.8,139.8 440,139.1 440.1,139 440.2,139.2 440.4,138.8 440.5,138.8 440.7,139 440.8,138.8 441,138.2 441.1,138.8 441.3,138.7 441.4,138.9 441.5,138.7 441.7,139 442,138 442.1,138.3 442.3,138.3 442.6,137.9 442.7,138.2 442.8,137.8 443.1,138.2 443.3,137.7 443.4,138.7 443.7,137.9 443.9,138.1 444,137.9 444.3,137.8 444.4,136.9 444.6,137.4 444.7,137.5 444.9,137 445,137.3 445.2,137 445.3,137 445.4,136.6 445.6,137.2 445.7,136.6 445.9,136.7 446,136.9 446.2,136.2 446.3,136.6 446.5,135.8 446.6,135.9 446.7,135.7 446.9,135.6 447,135.2 447.2,135.6 447.3,134.9 447.5,134.9 447.6,134.4 447.8,134.3 447.9,133.9 448,134.1 448.2,133.2 448.3,132.9 448.5,133.4 448.6,133.1 448.8,132.8 449,132.1 449.2,132.7 449.3,132.4 449.6,132.4 449.8,132.5 449.9,132.1 450.1,132.5 450.2,132 450.5,132.9 450.6,133.1 450.8,133.2 450.9,133 451.2,134.1 451.4,134 451.5,134.1 451.6,134.6 451.8,134.4 451.9,135 452.1,135.3 452.2,136 452.4,136.2 452.7,137.5 452.8,137.2 452.9,138.1 453.1,138 453.2,138.6 453.4,138.1 453.5,138.7 453.7,138.8 453.8,139 454.1,140 454.2,139.6 454.4,139.4 454.5,139.7 454.7,139.6 454.8,139.7 455,140.4 455.1,140 455.3,139.7 455.4,140.4 455.5,140.8 455.7,140.5 455.8,140.6 456,140.4 456.1,140.8 456.3,140.6 456.4,141.3 456.6,140.6 456.8,140.6 457,141.3 457.1,140.9 457.3,141.8 457.4,141 457.6,141.2 457.7,141.5 457.9,141.2 458,141.3 458.1,141.1 458.4,141.4 458.6,141.9 459,141.5 459.2,141.6 459.3,141.3 459.4,141.9 459.7,141.7 459.9,141.8 460,141.7 460.2,142 460.3,141.5 460.4,142 460.6,141.6 460.7,142 460.9,141.6 461,142.3 461.2,141.9 461.3,142.2 461.6,141.8 461.7,142.4 461.9,142.5 462.2,142.1 462.3,142.7 462.5,142.2 462.6,142.6 462.8,142.6 463,142.2 463.2,142.5 463.5,142.4 463.6,142.5 463.8,143.1 463.9,142.6 464.1,142.4 464.3,142 464.5,142.4 464.8,142.8 464.9,142.6 465.2,142.3 465.4,142.8 465.8,142.2 465.9,142.6 466.1,142.9 466.4,142.8 466.5,142.9 466.8,142.5 466.9,142.6 467.1,142.6 467.2,143 467.4,142.8 467.5,143 467.7,142.9 467.8,142.6 468,143 468.1,143.4 468.2,143.1 468.4,143.2 468.5,143.4 468.7,143.2 468.8,142.8 469,142.7 469.1,143.2 469.3,142.9 469.4,142.9 469.5,143.5 469.7,143.2 470,143.2 470.1,143.7 470.3,143.4 470.4,143.1 470.7,142.9 470.8,143.5 471,142.9 471.1,143.3 471.3,143.8 471.4,143.3 471.6,143.6 471.7,143.4 471.9,143.6 472,143.3 472.3,143.7 472.4,143.4 472.6,143.6 472.7,143.8 472.9,143.4 473,143.8 473.3,143.9 473.4,144.1 473.6,143.9 473.7,143.4 473.9,144.1 474,143.9 474.2,144.1 474.3,144 474.4,143.5 474.6,143.7 474.7,144.1 474.9,144 475,144.2 475.2,144.2 475.3,144.3 475.5,144.3 475.6,144 475.9,144 476.2,144.5 476.3,144.2 476.5,144.5 476.6,144.1 476.8,144.2 476.9,144.1 477.2,144.8 477.3,144.2 477.5,144.1 477.6,144.8 477.9,144.2 478.1,144.8 478.2,144.1 478.3,144.6 478.5,144.8 478.6,144.3 478.8,144.5 478.9,144.8 479.1,144.4 479.2,145.2" stroke="#1f1fff" stroke-width="1.7"/>
</g>
<path d="M409.5,167.00h-1.3 M409.5,156.80h-1.3 M409.5,146.60h-1.3 M409.5,136.40h-1.3 M409.5,126.20h-1.3 M426.15,171.1v1.2 M445.10,171.1v1.2 M464.05,171.1v1.2" stroke="#888" stroke-width="0.6" fill="none"/>
<text x="407.6" y="169.20" font-size="6.2" text-anchor="end" textLength="11.3" lengthAdjust="spacingAndGlyphs" class="s">0.000</text>
<text x="407.6" y="159.00" font-size="6.2" text-anchor="end" textLength="11.3" lengthAdjust="spacingAndGlyphs" class="s">0.005</text>
<text x="407.6" y="148.80" font-size="6.2" text-anchor="end" textLength="11.3" lengthAdjust="spacingAndGlyphs" class="s">0.010</text>
<text x="407.6" y="138.60" font-size="6.2" text-anchor="end" textLength="11.3" lengthAdjust="spacingAndGlyphs" class="s">0.015</text>
<text x="407.6" y="128.40" font-size="6.2" text-anchor="end" textLength="11.3" lengthAdjust="spacingAndGlyphs" class="s">0.020</text>
<text x="426.15" y="177.9" font-size="6" text-anchor="middle" class="s">1.4</text>
<text x="445.10" y="177.9" font-size="6" text-anchor="middle" class="s">1.5</text>
<text x="464.05" y="177.9" font-size="6" text-anchor="middle" class="s">1.6</text>
<path d="M475,24.40H504.3" stroke="#ff1a1a" stroke-width="1.1"/>
<text x="507.9" y="29.10" font-size="10.6">PID</text>
<path d="M475,40.65H504.3" stroke="#5656ff" stroke-width="2.0"/>
<text x="507.9" y="45.35" font-size="10.6">FPID</text>
<path d="M475,56.90H504.3" stroke="#f3a066" stroke-width="1.2"/>
<text x="507.9" y="61.60" font-size="10.6">SPID</text>
</svg></body></html>
